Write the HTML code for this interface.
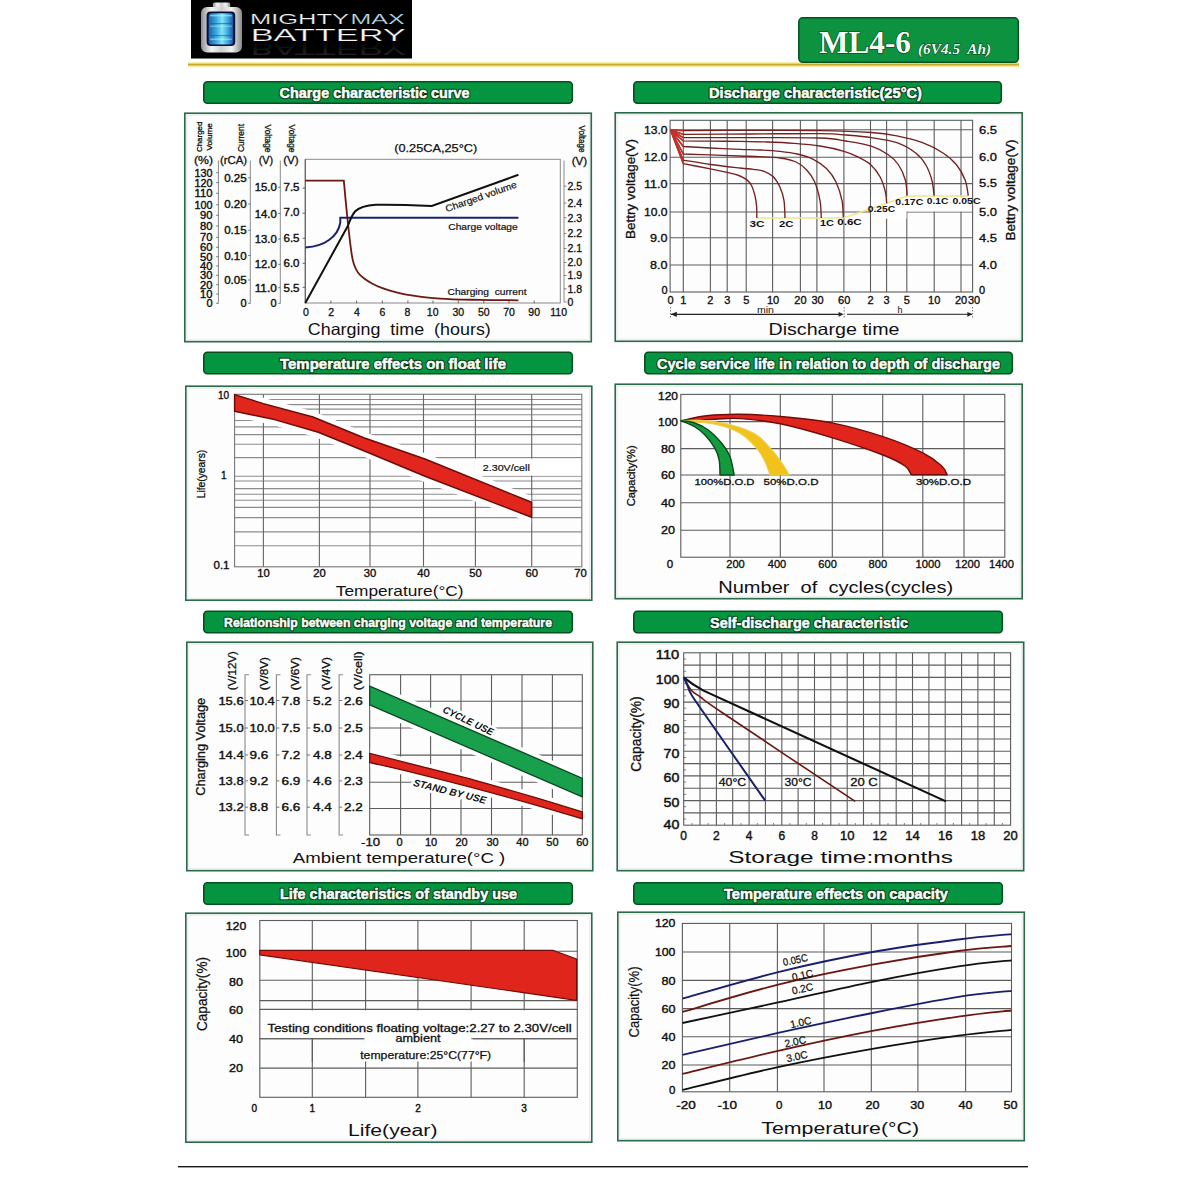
<!DOCTYPE html>
<html><head><meta charset="utf-8"><title>ML4-6 datasheet</title>
<style>
html,body{margin:0;padding:0;background:#fff;}
body{width:1200px;height:1200px;overflow:hidden;font-family:'Liberation Sans', sans-serif;}
svg{display:block;}
svg text{white-space:pre;}
</style></head><body>
<svg xml:space="preserve" width="1200" height="1200" viewBox="0 0 1200 1200" fill="#111" font-family="'Liberation Sans', sans-serif">
<rect x="0" y="0" width="1200" height="1200" fill="#fff"/>
<rect x="191.0" y="0.0" width="221.0" height="58.5" fill="#000" stroke="none" stroke-width="1" rx="0" />
<defs>
<linearGradient id="silv" x1="0" x2="1" y1="0" y2="0">
<stop offset="0" stop-color="#8e8e8e"/><stop offset="0.25" stop-color="#f4f4f4"/><stop offset="0.5" stop-color="#cfcfcf"/>
<stop offset="0.75" stop-color="#f2f2f2"/><stop offset="1" stop-color="#8a8a8a"/></linearGradient>
<linearGradient id="blu" x1="0" x2="1" y1="0" y2="0">
<stop offset="0" stop-color="#1d5fa8"/><stop offset="0.3" stop-color="#3aa6dc"/><stop offset="0.55" stop-color="#7fe4f6"/>
<stop offset="0.8" stop-color="#3aa0d8"/><stop offset="1" stop-color="#1a55a0"/></linearGradient>
<linearGradient id="refl" x1="0" x2="0" y1="0" y2="1">
<stop offset="0" stop-color="#fff" stop-opacity="0.45"/><stop offset="1" stop-color="#fff" stop-opacity="0"/></linearGradient>
</defs>
<rect x="212.8" y="2.6" width="17.5" height="5.5" fill="url(#silv)" stroke="none" stroke-width="1" rx="2" />
<rect x="201.0" y="7.0" width="41.0" height="45.5" fill="url(#silv)" stroke="none" stroke-width="1" rx="6" />
<rect x="206.6" y="11.4" width="28.6" height="34.7" fill="#06103a" stroke="none" stroke-width="1" rx="4" />
<rect x="208.6" y="13.2" width="24.6" height="31.2" fill="url(#blu)" stroke="none" stroke-width="1" rx="3" />
<rect x="210.0" y="14.8" width="21.8" height="1.6" fill="#c8f8ff" stroke="none" stroke-width="1" rx="0" opacity="0.55"/>
<rect x="210.0" y="25.5" width="21.8" height="1.6" fill="#c8f8ff" stroke="none" stroke-width="1" rx="0" opacity="0.35"/>
<rect x="210.0" y="38.5" width="21.8" height="1.6" fill="#c8f8ff" stroke="none" stroke-width="1" rx="0" opacity="0.45"/>
<rect x="210.0" y="23.2" width="21.8" height="0.9" fill="#155a8a" stroke="none" stroke-width="1" rx="0" opacity="0.7"/>
<rect x="210.0" y="35.2" width="21.8" height="0.9" fill="#155a8a" stroke="none" stroke-width="1" rx="0" opacity="0.7"/>
<text x="250.0" y="23.9" font-size="14.6" text-anchor="start" fill="#f4f4f4" textLength="99" lengthAdjust="spacingAndGlyphs" stroke="#000" stroke-width="0.2">MIGHTY</text>
<text x="350.5" y="23.9" font-size="14.6" text-anchor="start" fill="#bfe2f2" textLength="54" lengthAdjust="spacingAndGlyphs" stroke="#000" stroke-width="0.2">MAX</text>
<text x="250.7" y="41.4" font-size="16.4" text-anchor="start" fill="#f6f6f6" textLength="155" lengthAdjust="spacingAndGlyphs" stroke="#000" stroke-width="0.2">BATTERY</text>
<text x="250.7" y="42.9" font-size="16.4" text-anchor="start" fill="url(#refl)" textLength="155" lengthAdjust="spacingAndGlyphs" transform="translate(0,85.8) scale(1,-1)" opacity="0.35">BATTERY</text>
<defs><linearGradient id="ygl" x1="0" x2="0" y1="0" y2="1">
<stop offset="0" stop-color="#fffbe0"/><stop offset="0.25" stop-color="#f6e488"/><stop offset="0.5" stop-color="#c9a72e"/>
<stop offset="0.72" stop-color="#ecd55a"/><stop offset="1" stop-color="#fffbe8"/></linearGradient></defs>
<rect x="188.0" y="61.8" width="831.0" height="5.4" fill="url(#ygl)" stroke="none" stroke-width="1" rx="0" />
<rect x="798.8" y="17.8" width="219.5" height="44.5" fill="#0d923f" stroke="#06501f" stroke-width="1.5" rx="4" />
<text x="819.0" y="53.0" font-size="32" text-anchor="start" font-weight="bold" fill="#f4fff6" font-family="'Liberation Serif', serif" textLength="92" lengthAdjust="spacingAndGlyphs" stroke="#08361a" stroke-width="1.2" paint-order="stroke">ML4-6</text>
<text x="918.0" y="53.5" font-size="15" text-anchor="start" font-weight="bold" fill="#e8fff0" font-family="'Liberation Serif', serif" font-style="italic" textLength="73" lengthAdjust="spacingAndGlyphs" stroke="#08361a" stroke-width="1" paint-order="stroke">(6V4.5  Ah)</text>
<rect x="203.8" y="81.8" width="368.5" height="21.5" fill="#05943f" stroke="#06501f" stroke-width="1.6" rx="3.5" />
<text x="374.5" y="98.1" font-size="14" text-anchor="middle" font-weight="bold" fill="#0a3015" textLength="190.0" lengthAdjust="spacingAndGlyphs" stroke="#0a3015" stroke-width="2.4" stroke-linejoin="round">Charge characteristic curve</text>
<text x="374.5" y="98.1" font-size="14" text-anchor="middle" font-weight="bold" fill="#f4fff7" textLength="190.0" lengthAdjust="spacingAndGlyphs" stroke="#f4fff7" stroke-width="0.5" stroke-linejoin="round">Charge characteristic curve</text>
<rect x="633.8" y="81.8" width="367.5" height="21.5" fill="#05943f" stroke="#06501f" stroke-width="1.6" rx="3.5" />
<text x="815.5" y="98.1" font-size="14" text-anchor="middle" font-weight="bold" fill="#0a3015" textLength="213" lengthAdjust="spacingAndGlyphs" stroke="#0a3015" stroke-width="2.4" stroke-linejoin="round">Discharge characteristic(25°C)</text>
<text x="815.5" y="98.1" font-size="14" text-anchor="middle" font-weight="bold" fill="#f4fff7" textLength="213" lengthAdjust="spacingAndGlyphs" stroke="#f4fff7" stroke-width="0.5" stroke-linejoin="round">Discharge characteristic(25°C)</text>
<rect x="203.8" y="352.2" width="368.5" height="21.5" fill="#05943f" stroke="#06501f" stroke-width="1.6" rx="3.5" />
<text x="393.0" y="368.6" font-size="14" text-anchor="middle" font-weight="bold" fill="#0a3015" textLength="226" lengthAdjust="spacingAndGlyphs" stroke="#0a3015" stroke-width="2.4" stroke-linejoin="round">Temperature effects on float life</text>
<text x="393.0" y="368.6" font-size="14" text-anchor="middle" font-weight="bold" fill="#f4fff7" textLength="226" lengthAdjust="spacingAndGlyphs" stroke="#f4fff7" stroke-width="0.5" stroke-linejoin="round">Temperature effects on float life</text>
<rect x="644.8" y="352.2" width="367.5" height="21.5" fill="#05943f" stroke="#06501f" stroke-width="1.6" rx="3.5" />
<text x="828.5" y="368.6" font-size="14" text-anchor="middle" font-weight="bold" fill="#0a3015" textLength="343" lengthAdjust="spacingAndGlyphs" stroke="#0a3015" stroke-width="2.4" stroke-linejoin="round">Cycle service life in relation to depth of discharge</text>
<text x="828.5" y="368.6" font-size="14" text-anchor="middle" font-weight="bold" fill="#f4fff7" textLength="343" lengthAdjust="spacingAndGlyphs" stroke="#f4fff7" stroke-width="0.5" stroke-linejoin="round">Cycle service life in relation to depth of discharge</text>
<rect x="203.8" y="611.2" width="368.5" height="21.5" fill="#05943f" stroke="#06501f" stroke-width="1.6" rx="3.5" />
<text x="388.0" y="627.1" font-size="12.5" text-anchor="middle" font-weight="bold" fill="#0a3015" textLength="328" lengthAdjust="spacingAndGlyphs" stroke="#0a3015" stroke-width="2.4" stroke-linejoin="round">Relationship between charging voltage and temperature</text>
<text x="388.0" y="627.1" font-size="12.5" text-anchor="middle" font-weight="bold" fill="#f4fff7" textLength="328" lengthAdjust="spacingAndGlyphs" stroke="#f4fff7" stroke-width="0.5" stroke-linejoin="round">Relationship between charging voltage and temperature</text>
<rect x="633.8" y="611.2" width="368.5" height="21.5" fill="#05943f" stroke="#06501f" stroke-width="1.6" rx="3.5" />
<text x="809.0" y="627.6" font-size="14" text-anchor="middle" font-weight="bold" fill="#0a3015" textLength="198" lengthAdjust="spacingAndGlyphs" stroke="#0a3015" stroke-width="2.4" stroke-linejoin="round">Self-discharge characteristic</text>
<text x="809.0" y="627.6" font-size="14" text-anchor="middle" font-weight="bold" fill="#f4fff7" textLength="198" lengthAdjust="spacingAndGlyphs" stroke="#f4fff7" stroke-width="0.5" stroke-linejoin="round">Self-discharge characteristic</text>
<rect x="203.8" y="882.8" width="368.5" height="21.5" fill="#05943f" stroke="#06501f" stroke-width="1.6" rx="3.5" />
<text x="398.5" y="899.1" font-size="14" text-anchor="middle" font-weight="bold" fill="#0a3015" textLength="237" lengthAdjust="spacingAndGlyphs" stroke="#0a3015" stroke-width="2.4" stroke-linejoin="round">Life characteristics of standby use</text>
<text x="398.5" y="899.1" font-size="14" text-anchor="middle" font-weight="bold" fill="#f4fff7" textLength="237" lengthAdjust="spacingAndGlyphs" stroke="#f4fff7" stroke-width="0.5" stroke-linejoin="round">Life characteristics of standby use</text>
<rect x="633.8" y="882.8" width="368.5" height="21.5" fill="#05943f" stroke="#06501f" stroke-width="1.6" rx="3.5" />
<text x="836.0" y="899.1" font-size="14" text-anchor="middle" font-weight="bold" fill="#0a3015" textLength="224" lengthAdjust="spacingAndGlyphs" stroke="#0a3015" stroke-width="2.4" stroke-linejoin="round">Temperature effects on capacity</text>
<text x="836.0" y="899.1" font-size="14" text-anchor="middle" font-weight="bold" fill="#f4fff7" textLength="224" lengthAdjust="spacingAndGlyphs" stroke="#f4fff7" stroke-width="0.5" stroke-linejoin="round">Temperature effects on capacity</text>
<rect x="186.0" y="114.5" width="404.0" height="226.0" fill="#fdfdfd" stroke="#eef0ef" stroke-width="3" rx="0" />
<rect x="184.8" y="113.2" width="406.5" height="228.5" fill="none" stroke="#2c6a4c" stroke-width="1.6" rx="0" />
<rect x="616.5" y="114.0" width="404.5" height="226.0" fill="#fdfdfd" stroke="#eef0ef" stroke-width="3" rx="0" />
<rect x="615.2" y="112.8" width="407.0" height="228.5" fill="none" stroke="#2c6a4c" stroke-width="1.6" rx="0" />
<rect x="187.0" y="387.5" width="403.5" height="211.5" fill="#fdfdfd" stroke="#eef0ef" stroke-width="3" rx="0" />
<rect x="185.8" y="386.2" width="406.0" height="214.0" fill="none" stroke="#2c6a4c" stroke-width="1.6" rx="0" />
<rect x="616.5" y="385.5" width="404.5" height="212.0" fill="#fdfdfd" stroke="#eef0ef" stroke-width="3" rx="0" />
<rect x="615.2" y="384.2" width="407.0" height="214.5" fill="none" stroke="#2c6a4c" stroke-width="1.6" rx="0" />
<rect x="188.0" y="643.5" width="403.5" height="226.0" fill="#fdfdfd" stroke="#eef0ef" stroke-width="3" rx="0" />
<rect x="186.8" y="642.2" width="406.0" height="228.5" fill="none" stroke="#2c6a4c" stroke-width="1.6" rx="0" />
<rect x="618.5" y="643.5" width="404.0" height="226.0" fill="#fdfdfd" stroke="#eef0ef" stroke-width="3" rx="0" />
<rect x="617.2" y="642.2" width="406.5" height="228.5" fill="none" stroke="#2c6a4c" stroke-width="1.6" rx="0" />
<rect x="187.0" y="914.5" width="403.5" height="226.5" fill="#fdfdfd" stroke="#eef0ef" stroke-width="3" rx="0" />
<rect x="185.8" y="913.2" width="406.0" height="229.0" fill="none" stroke="#2c6a4c" stroke-width="1.6" rx="0" />
<rect x="619.0" y="913.5" width="404.0" height="226.0" fill="#fdfdfd" stroke="#eef0ef" stroke-width="3" rx="0" />
<rect x="617.8" y="912.2" width="406.5" height="228.5" fill="none" stroke="#2c6a4c" stroke-width="1.6" rx="0" />
<rect x="178.0" y="1166.0" width="850.0" height="1.4" fill="#1a1a1a" stroke="none" stroke-width="1" rx="0" />
<rect x="305.3" y="159.3" width="255.0" height="143.7" fill="none" stroke="#8a8a8a" stroke-width="1" rx="0" />
<line x1="305.3" y1="159.3" x2="305.3" y2="303.3" stroke="#666" stroke-width="1.2" />
<line x1="218.4" y1="160.5" x2="218.4" y2="303.5" stroke="#8a8a8a" stroke-width="1" />
<line x1="250.3" y1="160.5" x2="250.3" y2="303.5" stroke="#8a8a8a" stroke-width="1" />
<line x1="280.3" y1="160.5" x2="280.3" y2="303.5" stroke="#8a8a8a" stroke-width="1" />
<line x1="564.0" y1="160.5" x2="564.0" y2="302.0" stroke="#8a8a8a" stroke-width="1" />
<line x1="302.5" y1="188.1" x2="305.3" y2="188.1" stroke="#666" stroke-width="1" />
<line x1="302.5" y1="213.2" x2="305.3" y2="213.2" stroke="#666" stroke-width="1" />
<line x1="302.5" y1="238.3" x2="305.3" y2="238.3" stroke="#666" stroke-width="1" />
<line x1="302.5" y1="263.3" x2="305.3" y2="263.3" stroke="#666" stroke-width="1" />
<line x1="302.5" y1="287.3" x2="305.3" y2="287.3" stroke="#666" stroke-width="1" />
<line x1="330.9" y1="300.5" x2="330.9" y2="303.3" stroke="#666" stroke-width="1" />
<line x1="356.6" y1="300.5" x2="356.6" y2="303.3" stroke="#666" stroke-width="1" />
<line x1="382.3" y1="300.5" x2="382.3" y2="303.3" stroke="#666" stroke-width="1" />
<line x1="407.9" y1="300.5" x2="407.9" y2="303.3" stroke="#666" stroke-width="1" />
<line x1="433.0" y1="300.5" x2="433.0" y2="303.3" stroke="#666" stroke-width="1" />
<line x1="458.3" y1="300.5" x2="458.3" y2="303.3" stroke="#666" stroke-width="1" />
<line x1="483.8" y1="300.5" x2="483.8" y2="303.3" stroke="#666" stroke-width="1" />
<line x1="509.0" y1="300.5" x2="509.0" y2="303.3" stroke="#666" stroke-width="1" />
<line x1="534.2" y1="300.5" x2="534.2" y2="303.3" stroke="#666" stroke-width="1" />
<text x="212.5" y="176.7" font-size="11" text-anchor="end" textLength="18" lengthAdjust="spacingAndGlyphs" stroke="#111" stroke-width="0.4" >130</text>
<line x1="216.2" y1="172.7" x2="218.4" y2="172.7" stroke="#666" stroke-width="0.9" />
<text x="212.5" y="186.6" font-size="11" text-anchor="end" textLength="18" lengthAdjust="spacingAndGlyphs" stroke="#111" stroke-width="0.4" >120</text>
<line x1="216.2" y1="182.6" x2="218.4" y2="182.6" stroke="#666" stroke-width="0.9" />
<text x="212.5" y="197.3" font-size="11" text-anchor="end" textLength="18" lengthAdjust="spacingAndGlyphs" stroke="#111" stroke-width="0.4" >110</text>
<line x1="216.2" y1="193.3" x2="218.4" y2="193.3" stroke="#666" stroke-width="0.9" />
<text x="212.5" y="208.8" font-size="11" text-anchor="end" textLength="18" lengthAdjust="spacingAndGlyphs" stroke="#111" stroke-width="0.4" >100</text>
<line x1="216.2" y1="204.8" x2="218.4" y2="204.8" stroke="#666" stroke-width="0.9" />
<text x="212.5" y="219.3" font-size="11" text-anchor="end" textLength="12.5" lengthAdjust="spacingAndGlyphs" stroke="#111" stroke-width="0.4" >90</text>
<line x1="216.2" y1="215.3" x2="218.4" y2="215.3" stroke="#666" stroke-width="0.9" />
<text x="212.5" y="230.0" font-size="11" text-anchor="end" textLength="12.5" lengthAdjust="spacingAndGlyphs" stroke="#111" stroke-width="0.4" >80</text>
<line x1="216.2" y1="226.0" x2="218.4" y2="226.0" stroke="#666" stroke-width="0.9" />
<text x="212.5" y="241.3" font-size="11" text-anchor="end" textLength="12.5" lengthAdjust="spacingAndGlyphs" stroke="#111" stroke-width="0.4" >70</text>
<line x1="216.2" y1="237.3" x2="218.4" y2="237.3" stroke="#666" stroke-width="0.9" />
<text x="212.5" y="251.3" font-size="11" text-anchor="end" textLength="12.5" lengthAdjust="spacingAndGlyphs" stroke="#111" stroke-width="0.4" >60</text>
<line x1="216.2" y1="247.3" x2="218.4" y2="247.3" stroke="#666" stroke-width="0.9" />
<text x="212.5" y="260.7" font-size="11" text-anchor="end" textLength="12.5" lengthAdjust="spacingAndGlyphs" stroke="#111" stroke-width="0.4" >50</text>
<line x1="216.2" y1="256.7" x2="218.4" y2="256.7" stroke="#666" stroke-width="0.9" />
<text x="212.5" y="270.0" font-size="11" text-anchor="end" textLength="12.5" lengthAdjust="spacingAndGlyphs" stroke="#111" stroke-width="0.4" >40</text>
<line x1="216.2" y1="266.0" x2="218.4" y2="266.0" stroke="#666" stroke-width="0.9" />
<text x="212.5" y="279.3" font-size="11" text-anchor="end" textLength="12.5" lengthAdjust="spacingAndGlyphs" stroke="#111" stroke-width="0.4" >30</text>
<line x1="216.2" y1="275.3" x2="218.4" y2="275.3" stroke="#666" stroke-width="0.9" />
<text x="212.5" y="288.7" font-size="11" text-anchor="end" textLength="12.5" lengthAdjust="spacingAndGlyphs" stroke="#111" stroke-width="0.4" >20</text>
<line x1="216.2" y1="284.7" x2="218.4" y2="284.7" stroke="#666" stroke-width="0.9" />
<text x="212.5" y="298.0" font-size="11" text-anchor="end" textLength="12.5" lengthAdjust="spacingAndGlyphs" stroke="#111" stroke-width="0.4" >10</text>
<line x1="216.2" y1="294.0" x2="218.4" y2="294.0" stroke="#666" stroke-width="0.9" />
<text x="212.5" y="307.3" font-size="11" text-anchor="end" stroke="#111" stroke-width="0.4" >0</text>
<line x1="216.2" y1="303.3" x2="218.4" y2="303.3" stroke="#666" stroke-width="0.9" />
<text x="246.7" y="181.8" font-size="11" text-anchor="end" textLength="22.5" lengthAdjust="spacingAndGlyphs" stroke="#111" stroke-width="0.4" >0.25</text>
<line x1="248.2" y1="177.8" x2="250.3" y2="177.8" stroke="#666" stroke-width="0.9" />
<text x="246.7" y="208.0" font-size="11" text-anchor="end" textLength="22.5" lengthAdjust="spacingAndGlyphs" stroke="#111" stroke-width="0.4" >0.20</text>
<line x1="248.2" y1="204.0" x2="250.3" y2="204.0" stroke="#666" stroke-width="0.9" />
<text x="246.7" y="234.3" font-size="11" text-anchor="end" textLength="22.5" lengthAdjust="spacingAndGlyphs" stroke="#111" stroke-width="0.4" >0.15</text>
<line x1="248.2" y1="230.3" x2="250.3" y2="230.3" stroke="#666" stroke-width="0.9" />
<text x="246.7" y="259.5" font-size="11" text-anchor="end" textLength="22.5" lengthAdjust="spacingAndGlyphs" stroke="#111" stroke-width="0.4" >0.10</text>
<line x1="248.2" y1="255.5" x2="250.3" y2="255.5" stroke="#666" stroke-width="0.9" />
<text x="246.7" y="284.0" font-size="11" text-anchor="end" textLength="22.5" lengthAdjust="spacingAndGlyphs" stroke="#111" stroke-width="0.4" >0.05</text>
<line x1="248.2" y1="280.0" x2="250.3" y2="280.0" stroke="#666" stroke-width="0.9" />
<text x="246.7" y="307.3" font-size="11" text-anchor="end" stroke="#111" stroke-width="0.4" >0</text>
<line x1="248.2" y1="303.3" x2="250.3" y2="303.3" stroke="#666" stroke-width="0.9" />
<text x="276.7" y="191.3" font-size="11" text-anchor="end" textLength="22" lengthAdjust="spacingAndGlyphs" stroke="#111" stroke-width="0.4" >15.0</text>
<line x1="278.2" y1="187.3" x2="280.3" y2="187.3" stroke="#666" stroke-width="0.9" />
<text x="276.7" y="217.5" font-size="11" text-anchor="end" textLength="22" lengthAdjust="spacingAndGlyphs" stroke="#111" stroke-width="0.4" >14.0</text>
<line x1="278.2" y1="213.5" x2="280.3" y2="213.5" stroke="#666" stroke-width="0.9" />
<text x="276.7" y="243.0" font-size="11" text-anchor="end" textLength="22" lengthAdjust="spacingAndGlyphs" stroke="#111" stroke-width="0.4" >13.0</text>
<line x1="278.2" y1="239.0" x2="280.3" y2="239.0" stroke="#666" stroke-width="0.9" />
<text x="276.7" y="268.3" font-size="11" text-anchor="end" textLength="22" lengthAdjust="spacingAndGlyphs" stroke="#111" stroke-width="0.4" >12.0</text>
<line x1="278.2" y1="264.3" x2="280.3" y2="264.3" stroke="#666" stroke-width="0.9" />
<text x="276.7" y="291.7" font-size="11" text-anchor="end" textLength="22" lengthAdjust="spacingAndGlyphs" stroke="#111" stroke-width="0.4" >11.0</text>
<line x1="278.2" y1="287.7" x2="280.3" y2="287.7" stroke="#666" stroke-width="0.9" />
<text x="276.7" y="307.3" font-size="11" text-anchor="end" stroke="#111" stroke-width="0.4" >0</text>
<line x1="278.2" y1="303.3" x2="280.3" y2="303.3" stroke="#666" stroke-width="0.9" />
<text x="299.5" y="191.3" font-size="11" text-anchor="end" textLength="16" lengthAdjust="spacingAndGlyphs" stroke="#111" stroke-width="0.4" >7.5</text>
<text x="299.5" y="215.8" font-size="11" text-anchor="end" textLength="16" lengthAdjust="spacingAndGlyphs" stroke="#111" stroke-width="0.4" >7.0</text>
<text x="299.5" y="242.0" font-size="11" text-anchor="end" textLength="16" lengthAdjust="spacingAndGlyphs" stroke="#111" stroke-width="0.4" >6.5</text>
<text x="299.5" y="267.2" font-size="11" text-anchor="end" textLength="16" lengthAdjust="spacingAndGlyphs" stroke="#111" stroke-width="0.4" >6.0</text>
<text x="299.5" y="291.7" font-size="11" text-anchor="end" textLength="16" lengthAdjust="spacingAndGlyphs" stroke="#111" stroke-width="0.4" >5.5</text>
<text x="567.5" y="190.0" font-size="10.5" text-anchor="start" stroke="#111" stroke-width="0.3" >2.5</text>
<line x1="564.0" y1="186.2" x2="566.5" y2="186.2" stroke="#666" stroke-width="0.8" />
<text x="567.5" y="206.8" font-size="10.5" text-anchor="start" stroke="#111" stroke-width="0.3" >2.4</text>
<line x1="564.0" y1="203.0" x2="566.5" y2="203.0" stroke="#666" stroke-width="0.8" />
<text x="567.5" y="221.5" font-size="10.5" text-anchor="start" stroke="#111" stroke-width="0.3" >2.3</text>
<line x1="564.0" y1="217.7" x2="566.5" y2="217.7" stroke="#666" stroke-width="0.8" />
<text x="567.5" y="237.3" font-size="10.5" text-anchor="start" stroke="#111" stroke-width="0.3" >2.2</text>
<line x1="564.0" y1="233.5" x2="566.5" y2="233.5" stroke="#666" stroke-width="0.8" />
<text x="567.5" y="252.3" font-size="10.5" text-anchor="start" stroke="#111" stroke-width="0.3" >2.1</text>
<line x1="564.0" y1="248.5" x2="566.5" y2="248.5" stroke="#666" stroke-width="0.8" />
<text x="567.5" y="266.3" font-size="10.5" text-anchor="start" stroke="#111" stroke-width="0.3" >2.0</text>
<line x1="564.0" y1="262.5" x2="566.5" y2="262.5" stroke="#666" stroke-width="0.8" />
<text x="567.5" y="279.3" font-size="10.5" text-anchor="start" stroke="#111" stroke-width="0.3" >1.9</text>
<line x1="564.0" y1="275.5" x2="566.5" y2="275.5" stroke="#666" stroke-width="0.8" />
<text x="567.5" y="292.6" font-size="10.5" text-anchor="start" stroke="#111" stroke-width="0.3" >1.8</text>
<line x1="564.0" y1="288.8" x2="566.5" y2="288.8" stroke="#666" stroke-width="0.8" />
<text x="567.5" y="305.8" font-size="10.5" text-anchor="start" stroke="#111" stroke-width="0.3" >0</text>
<line x1="564.0" y1="302.0" x2="566.5" y2="302.0" stroke="#666" stroke-width="0.8" />
<text x="203.5" y="163.5" font-size="11" text-anchor="middle" textLength="19" lengthAdjust="spacingAndGlyphs" stroke="#111" stroke-width="0.3" >(%)</text>
<text x="233.5" y="163.5" font-size="11" text-anchor="middle" textLength="27" lengthAdjust="spacingAndGlyphs" stroke="#111" stroke-width="0.3" >(rCA)</text>
<text x="266.0" y="163.5" font-size="11" text-anchor="middle" textLength="14.5" lengthAdjust="spacingAndGlyphs" stroke="#111" stroke-width="0.3" >(V)</text>
<text x="291.0" y="163.5" font-size="11" text-anchor="middle" textLength="15.5" lengthAdjust="spacingAndGlyphs" stroke="#111" stroke-width="0.3" >(V)</text>
<text x="579.5" y="164.5" font-size="11" text-anchor="middle" textLength="15.5" lengthAdjust="spacingAndGlyphs" stroke="#111" stroke-width="0.3" >(V)</text>
<text x="199.5" y="139.7" font-size="8" text-anchor="middle" textLength="30.5" lengthAdjust="spacingAndGlyphs" stroke="#111" stroke-width="0.3" transform="rotate(-90 199.5 136.8)" >Charged</text>
<text x="209.3" y="139.7" font-size="8" text-anchor="middle" textLength="27.5" lengthAdjust="spacingAndGlyphs" stroke="#111" stroke-width="0.3" transform="rotate(-90 209.3 136.8)" >Volume</text>
<text x="241.0" y="141.1" font-size="8.5" text-anchor="middle" textLength="28" lengthAdjust="spacingAndGlyphs" stroke="#111" stroke-width="0.3" transform="rotate(-90 241.0 138.0)" >Current</text>
<text x="268.3" y="141.6" font-size="8.5" text-anchor="middle" textLength="28" lengthAdjust="spacingAndGlyphs" stroke="#111" stroke-width="0.3" transform="rotate(90 268.3 138.5)" >Voltage</text>
<text x="292.5" y="141.6" font-size="8.5" text-anchor="middle" textLength="28" lengthAdjust="spacingAndGlyphs" stroke="#111" stroke-width="0.3" transform="rotate(90 292.5 138.5)" >Voltage</text>
<text x="582.0" y="142.1" font-size="8.5" text-anchor="middle" textLength="27" lengthAdjust="spacingAndGlyphs" stroke="#111" stroke-width="0.3" transform="rotate(90 582.0 139.0)" >Voltage</text>
<text x="435.7" y="151.5" font-size="11" text-anchor="middle" textLength="83" lengthAdjust="spacingAndGlyphs" stroke="#111" stroke-width="0.25" >(0.25CA,25°C)</text>
<text x="306.0" y="316.0" font-size="10.5" text-anchor="middle" stroke="#111" stroke-width="0.3" >0</text>
<text x="331.2" y="316.0" font-size="10.5" text-anchor="middle" stroke="#111" stroke-width="0.3" >2</text>
<text x="356.8" y="316.0" font-size="10.5" text-anchor="middle" stroke="#111" stroke-width="0.3" >4</text>
<text x="382.3" y="316.0" font-size="10.5" text-anchor="middle" stroke="#111" stroke-width="0.3" >6</text>
<text x="407.5" y="316.0" font-size="10.5" text-anchor="middle" stroke="#111" stroke-width="0.3" >8</text>
<text x="432.7" y="316.0" font-size="10.5" text-anchor="middle" stroke="#111" stroke-width="0.3" >10</text>
<text x="458.3" y="316.0" font-size="10.5" text-anchor="middle" stroke="#111" stroke-width="0.3" >30</text>
<text x="483.8" y="316.0" font-size="10.5" text-anchor="middle" stroke="#111" stroke-width="0.3" >50</text>
<text x="509.0" y="316.0" font-size="10.5" text-anchor="middle" stroke="#111" stroke-width="0.3" >70</text>
<text x="534.2" y="316.0" font-size="10.5" text-anchor="middle" stroke="#111" stroke-width="0.3" >90</text>
<text x="558.7" y="316.0" font-size="10.5" text-anchor="middle" stroke="#111" stroke-width="0.3" >110</text>
<text x="399.3" y="334.9" font-size="16.5" text-anchor="middle" textLength="183" lengthAdjust="spacingAndGlyphs" >Charging  time  (hours)</text>
<path d="M305.3,180.7 L343.8,180.7 C344.4,186.6 345.9,204.2 347.2,216.0 C348.4,227.8 350.2,243.6 351.3,251.7 C352.4,259.8 352.8,260.9 354.0,264.5 C355.2,268.1 356.6,270.7 358.3,273.0 C360.0,275.3 361.9,276.8 364.2,278.5 C366.5,280.2 369.1,281.9 372.0,283.5 C374.9,285.1 376.2,286.0 381.7,287.8 C387.2,289.6 395.3,292.5 405.0,294.3 C414.7,296.1 427.5,297.7 440.0,298.6 C452.5,299.5 466.9,299.6 480.0,299.9 C493.1,300.2 512.0,300.2 518.4,300.3" fill="none" stroke="#6a1a12" stroke-width="1.8" />
<path d="M305.3,247.6 C314,246.8 323,244.5 329,240 C336,235 339.5,228 340.3,222.5 L340.3,217.8 L518.4,217.8" fill="none" stroke="#1c2270" stroke-width="2" />
<path d="M305.3,303 L347.8,226 C350,220 352,215 355,211.5 C359,207.5 366,205.3 375.8,204.8 C390,204.6 410,205 431.8,206 L518.4,174.8" fill="none" stroke="#111" stroke-width="2" />
<text x="481.0" y="199.9" font-size="9.5" text-anchor="middle" textLength="75" lengthAdjust="spacingAndGlyphs" stroke="#111" stroke-width="0.2" transform="rotate(-19.5 481.0 196.5)" >Charged volume</text>
<text x="483.0" y="230.2" font-size="9.5" text-anchor="middle" textLength="69.5" lengthAdjust="spacingAndGlyphs" stroke="#111" stroke-width="0.2" >Charge voltage</text>
<text x="487.0" y="295.0" font-size="9.5" text-anchor="middle" textLength="79" lengthAdjust="spacingAndGlyphs" stroke="#111" stroke-width="0.2" >Charging  current</text>
<line x1="683.3" y1="120.3" x2="683.3" y2="292.0" stroke="#5c5c5c" stroke-width="1.1" />
<line x1="710.4" y1="120.3" x2="710.4" y2="292.0" stroke="#5c5c5c" stroke-width="1.1" />
<line x1="727.2" y1="120.3" x2="727.2" y2="292.0" stroke="#5c5c5c" stroke-width="1.1" />
<line x1="746.2" y1="120.3" x2="746.2" y2="292.0" stroke="#5c5c5c" stroke-width="1.1" />
<line x1="772.6" y1="120.3" x2="772.6" y2="292.0" stroke="#5c5c5c" stroke-width="1.1" />
<line x1="800.4" y1="120.3" x2="800.4" y2="292.0" stroke="#5c5c5c" stroke-width="1.1" />
<line x1="816.9" y1="120.3" x2="816.9" y2="292.0" stroke="#5c5c5c" stroke-width="1.1" />
<line x1="843.9" y1="120.3" x2="843.9" y2="292.0" stroke="#5c5c5c" stroke-width="1.1" />
<line x1="870.5" y1="120.3" x2="870.5" y2="292.0" stroke="#5c5c5c" stroke-width="1.1" />
<line x1="886.6" y1="120.3" x2="886.6" y2="292.0" stroke="#5c5c5c" stroke-width="1.1" />
<line x1="906.8" y1="120.3" x2="906.8" y2="292.0" stroke="#5c5c5c" stroke-width="1.1" />
<line x1="934.2" y1="120.3" x2="934.2" y2="292.0" stroke="#5c5c5c" stroke-width="1.1" />
<line x1="961.0" y1="120.3" x2="961.0" y2="292.0" stroke="#5c5c5c" stroke-width="1.1" />
<line x1="670.1" y1="129.8" x2="972.6" y2="129.8" stroke="#5c5c5c" stroke-width="1.1" />
<line x1="670.1" y1="157.3" x2="972.6" y2="157.3" stroke="#5c5c5c" stroke-width="1.1" />
<line x1="670.1" y1="183.6" x2="972.6" y2="183.6" stroke="#5c5c5c" stroke-width="1.1" />
<line x1="670.1" y1="212.0" x2="972.6" y2="212.0" stroke="#5c5c5c" stroke-width="1.1" />
<line x1="670.1" y1="237.8" x2="972.6" y2="237.8" stroke="#5c5c5c" stroke-width="1.1" />
<line x1="670.1" y1="265.0" x2="972.6" y2="265.0" stroke="#5c5c5c" stroke-width="1.1" />
<rect x="670.1" y="120.3" width="302.5" height="171.7" fill="none" stroke="#5c5c5c" stroke-width="1.1" rx="0" />
<rect x="871.2" y="197.2" width="100.8" height="14.3" fill="#fff" stroke="none" stroke-width="1" rx="0" />
<rect x="871.2" y="197.2" width="35.3" height="21.5" fill="#fff" stroke="none" stroke-width="1" rx="0" />
<polyline points="756.8,218.0 843.3,218.0 886.7,203.3 907.1,196.0 968.3,196.0" fill="none" stroke="#ebe78e" stroke-width="1.5" />
<path d="M670.5,130 L683.3,163.6 C687.8,164.5 703.1,167.4 710.4,168.9 C717.7,170.4 722.5,171.4 727.0,172.4 C731.5,173.4 734.3,173.8 737.5,175.0 C740.7,176.2 744.0,177.7 746.3,179.4 C748.6,181.2 750.0,182.7 751.5,185.5 C753.0,188.3 754.1,192.5 755.0,196.0 C755.9,199.5 756.3,202.8 756.6,206.5 C756.9,210.2 756.8,216.1 756.8,218.0" fill="none" stroke="#732222" stroke-width="1.35" />
<path d="M670.5,130 L683.3,160.1 C687.8,160.8 700.9,163.2 710.4,164.5 C719.9,165.8 732.9,167.2 740.0,168.0 C747.1,168.8 749.3,168.8 753.3,169.3 C757.3,169.9 760.7,170.1 764.0,171.3 C767.3,172.5 770.6,174.0 773.3,176.7 C776.0,179.4 778.2,183.3 780.0,187.3 C781.8,191.3 783.2,195.6 784.0,200.7 C784.8,205.8 784.8,215.1 785.0,218.0" fill="none" stroke="#732222" stroke-width="1.35" />
<path d="M670.5,130 L683.3,154.0 C687.8,154.2 700.9,154.6 710.4,154.9 C719.9,155.2 731.7,155.7 740.0,156.0 C748.3,156.3 753.3,156.4 760.0,156.7 C766.7,157.0 774.0,157.1 780.0,158.0 C786.0,158.9 791.5,160.0 796.0,162.0 C800.5,164.0 803.6,166.7 806.7,170.0 C809.8,173.3 812.5,176.9 814.7,182.0 C816.9,187.1 818.9,194.7 820.0,200.7 C821.1,206.7 821.1,215.1 821.3,218.0" fill="none" stroke="#732222" stroke-width="1.35" />
<path d="M670.5,130 L683.3,146.5 C687.8,146.8 700.5,147.5 710.0,148.0 C719.5,148.5 731.7,149.0 740.0,149.3 C748.3,149.6 753.3,149.7 760.0,150.0 C766.7,150.3 773.8,150.6 780.0,151.3 C786.2,152.0 791.8,152.7 797.3,154.0 C802.8,155.3 808.4,156.9 813.3,159.3 C818.2,161.8 822.9,164.9 826.7,168.7 C830.5,172.5 833.5,176.7 836.0,182.0 C838.5,187.3 840.8,194.8 842.0,200.7 C843.2,206.6 843.1,214.7 843.3,217.5" fill="none" stroke="#732222" stroke-width="1.35" />
<path d="M670.5,130 L683.3,140.9 C687.8,140.9 700.5,141.1 710.0,141.2 C719.5,141.3 730.5,141.2 740.0,141.3 C749.5,141.4 757.8,141.7 766.7,142.0 C775.6,142.3 784.4,142.6 793.3,143.3 C802.2,144.0 811.5,144.7 820.0,146.0 C828.5,147.3 837.8,149.5 844.0,151.3 C850.2,153.1 852.8,154.5 857.3,156.7 C861.8,158.9 866.9,161.4 870.7,164.7 C874.5,168.0 877.6,172.3 880.0,176.7 C882.4,181.1 884.2,186.9 885.3,191.3 C886.4,195.7 886.5,201.3 886.7,203.3" fill="none" stroke="#732222" stroke-width="1.35" />
<path d="M670.5,130 L683.3,137.6 C694.4,137.6 727.2,137.5 750.0,137.6 C772.8,137.7 804.1,137.4 820.0,138.0 C835.9,138.6 837.1,139.6 845.6,141.0 C854.1,142.4 864.1,143.9 871.2,146.2 C878.3,148.5 883.7,151.6 888.3,154.7 C892.9,157.8 895.8,160.7 898.6,165.0 C901.5,169.3 904.0,175.2 905.4,180.3 C906.8,185.4 906.8,193.1 907.1,195.7" fill="none" stroke="#732222" stroke-width="1.35" />
<path d="M670.5,130 L683.3,134.4 C694.4,134.3 727.2,134.1 750.0,134.0 C772.8,133.9 804.1,133.4 820.0,133.6 C835.9,133.8 837.1,134.3 845.6,135.0 C854.1,135.7 862.7,136.3 871.2,137.6 C879.8,138.9 889.5,140.1 896.9,142.7 C904.3,145.3 910.9,149.3 915.7,153.0 C920.5,156.7 923.2,160.4 925.9,165.0 C928.6,169.6 930.5,175.2 931.9,180.3 C933.3,185.4 933.7,193.1 934.1,195.7" fill="none" stroke="#732222" stroke-width="1.35" />
<path d="M670.5,130 L683.3,130.6 C694.4,130.6 727.2,130.4 750.0,130.4 C772.8,130.4 799.8,130.2 820.0,130.6 C840.2,130.9 858.4,131.6 871.2,132.5 C884.0,133.4 888.4,134.2 896.9,135.9 C905.4,137.6 914.8,139.8 922.5,142.7 C930.2,145.5 937.3,149.3 943.0,153.0 C948.7,156.7 953.0,160.4 956.7,165.0 C960.4,169.6 963.3,175.2 965.2,180.3 C967.1,185.4 967.8,193.1 968.3,195.7" fill="none" stroke="#732222" stroke-width="1.35" />
<line x1="670.5" y1="130.0" x2="683.3" y2="163.6" stroke="#c8302a" stroke-width="1.4" />
<line x1="670.5" y1="130.0" x2="683.3" y2="160.1" stroke="#c8302a" stroke-width="1.4" />
<line x1="670.5" y1="130.0" x2="683.3" y2="154.0" stroke="#c8302a" stroke-width="1.4" />
<line x1="670.5" y1="130.0" x2="683.3" y2="146.5" stroke="#c8302a" stroke-width="1.4" />
<line x1="670.5" y1="130.0" x2="683.3" y2="140.9" stroke="#c8302a" stroke-width="1.4" />
<line x1="670.5" y1="130.0" x2="683.3" y2="137.6" stroke="#c8302a" stroke-width="1.4" />
<line x1="670.5" y1="130.0" x2="683.3" y2="134.4" stroke="#c8302a" stroke-width="1.4" />
<line x1="670.5" y1="130.0" x2="683.3" y2="130.6" stroke="#c8302a" stroke-width="1.4" />
<text x="757.0" y="226.5" font-size="9" text-anchor="middle" font-weight="bold" textLength="15" lengthAdjust="spacingAndGlyphs" >3C</text>
<text x="786.3" y="226.5" font-size="9" text-anchor="middle" font-weight="bold" textLength="14.5" lengthAdjust="spacingAndGlyphs" >2C</text>
<text x="827.0" y="226.2" font-size="9" text-anchor="middle" font-weight="bold" textLength="14" lengthAdjust="spacingAndGlyphs" >1C</text>
<text x="849.5" y="225.2" font-size="9" text-anchor="middle" font-weight="bold" textLength="24.5" lengthAdjust="spacingAndGlyphs" >0.6C</text>
<text x="881.5" y="211.7" font-size="9" text-anchor="middle" font-weight="bold" textLength="27.5" lengthAdjust="spacingAndGlyphs" >0.25C</text>
<text x="909.3" y="204.9" font-size="9" text-anchor="middle" font-weight="bold" textLength="28" lengthAdjust="spacingAndGlyphs" >0.17C</text>
<text x="937.5" y="203.7" font-size="9" text-anchor="middle" font-weight="bold" textLength="21.5" lengthAdjust="spacingAndGlyphs" >0.1C</text>
<text x="966.5" y="204.4" font-size="9" text-anchor="middle" font-weight="bold" textLength="28" lengthAdjust="spacingAndGlyphs" >0.05C</text>
<text x="667.5" y="134.0" font-size="11" text-anchor="end" textLength="23.5" lengthAdjust="spacingAndGlyphs" stroke="#111" stroke-width="0.35" >13.0</text>
<text x="667.5" y="161.3" font-size="11" text-anchor="end" textLength="23.5" lengthAdjust="spacingAndGlyphs" stroke="#111" stroke-width="0.35" >12.0</text>
<text x="667.5" y="187.8" font-size="11" text-anchor="end" textLength="23.5" lengthAdjust="spacingAndGlyphs" stroke="#111" stroke-width="0.35" >11.0</text>
<text x="667.5" y="216.0" font-size="11" text-anchor="end" textLength="23.5" lengthAdjust="spacingAndGlyphs" stroke="#111" stroke-width="0.35" >10.0</text>
<text x="667.5" y="242.0" font-size="11" text-anchor="end" textLength="17.5" lengthAdjust="spacingAndGlyphs" stroke="#111" stroke-width="0.35" >9.0</text>
<text x="667.5" y="269.0" font-size="11" text-anchor="end" textLength="17.5" lengthAdjust="spacingAndGlyphs" stroke="#111" stroke-width="0.35" >8.0</text>
<text x="667.5" y="294.0" font-size="11" text-anchor="end" stroke="#111" stroke-width="0.35" >0</text>
<text x="979.0" y="134.0" font-size="11" text-anchor="start" textLength="18" lengthAdjust="spacingAndGlyphs" stroke="#111" stroke-width="0.35" >6.5</text>
<text x="979.0" y="161.3" font-size="11" text-anchor="start" textLength="18" lengthAdjust="spacingAndGlyphs" stroke="#111" stroke-width="0.35" >6.0</text>
<text x="979.0" y="187.3" font-size="11" text-anchor="start" textLength="18" lengthAdjust="spacingAndGlyphs" stroke="#111" stroke-width="0.35" >5.5</text>
<text x="979.0" y="216.3" font-size="11" text-anchor="start" textLength="18" lengthAdjust="spacingAndGlyphs" stroke="#111" stroke-width="0.35" >5.0</text>
<text x="979.0" y="242.0" font-size="11" text-anchor="start" textLength="18" lengthAdjust="spacingAndGlyphs" stroke="#111" stroke-width="0.35" >4.5</text>
<text x="979.0" y="269.0" font-size="11" text-anchor="start" textLength="18" lengthAdjust="spacingAndGlyphs" stroke="#111" stroke-width="0.35" >4.0</text>
<text x="979.0" y="294.0" font-size="11" text-anchor="start" stroke="#111" stroke-width="0.35" >0</text>
<text x="631.0" y="193.3" font-size="12" text-anchor="middle" textLength="100" lengthAdjust="spacingAndGlyphs" stroke="#111" stroke-width="0.3" transform="rotate(-90 631.0 189.0)" >Bettry voltage(V)</text>
<text x="1010.5" y="194.3" font-size="12" text-anchor="middle" textLength="101" lengthAdjust="spacingAndGlyphs" stroke="#111" stroke-width="0.3" transform="rotate(-90 1010.5 190.0)" >Bettry voltage(V)</text>
<text x="670.6" y="304.4" font-size="11" text-anchor="middle" stroke="#111" stroke-width="0.35" >0</text>
<text x="683.3" y="304.4" font-size="11" text-anchor="middle" stroke="#111" stroke-width="0.35" >1</text>
<text x="710.4" y="304.4" font-size="11" text-anchor="middle" stroke="#111" stroke-width="0.35" >2</text>
<text x="727.2" y="304.4" font-size="11" text-anchor="middle" stroke="#111" stroke-width="0.35" >3</text>
<text x="746.2" y="304.4" font-size="11" text-anchor="middle" stroke="#111" stroke-width="0.35" >5</text>
<text x="773.0" y="304.4" font-size="11" text-anchor="middle" stroke="#111" stroke-width="0.35" >10</text>
<text x="800.4" y="304.4" font-size="11" text-anchor="middle" stroke="#111" stroke-width="0.35" >20</text>
<text x="817.5" y="304.4" font-size="11" text-anchor="middle" stroke="#111" stroke-width="0.35" >30</text>
<text x="844.2" y="304.4" font-size="11" text-anchor="middle" stroke="#111" stroke-width="0.35" >60</text>
<text x="870.5" y="304.4" font-size="11" text-anchor="middle" stroke="#111" stroke-width="0.35" >2</text>
<text x="886.6" y="304.4" font-size="11" text-anchor="middle" stroke="#111" stroke-width="0.35" >3</text>
<text x="906.8" y="304.4" font-size="11" text-anchor="middle" stroke="#111" stroke-width="0.35" >5</text>
<text x="934.2" y="304.4" font-size="11" text-anchor="middle" stroke="#111" stroke-width="0.35" >10</text>
<text x="961.0" y="304.4" font-size="11" text-anchor="middle" stroke="#111" stroke-width="0.35" >20</text>
<text x="974.0" y="304.4" font-size="11" text-anchor="middle" stroke="#111" stroke-width="0.35" >30</text>
<line x1="671.0" y1="314.3" x2="841.0" y2="314.3" stroke="#222" stroke-width="1.2" />
<line x1="847.0" y1="314.3" x2="972.0" y2="314.3" stroke="#222" stroke-width="1.0" />
<path d="M670.8,314.3 l6,-2.6 l0,5.2 z" fill="#222"/>
<path d="M843.6,314.3 l-5,-2.4 l0,4.8 z" fill="#222"/>
<path d="M972.4,314.3 l-5,-2.4 l0,4.8 z" fill="#222"/>
<line x1="670.5" y1="307.0" x2="670.5" y2="318.0" stroke="#555" stroke-width="0.8" stroke-dasharray="1.5,1.5"/>
<line x1="844.2" y1="307.0" x2="844.2" y2="318.0" stroke="#555" stroke-width="0.8" stroke-dasharray="1.5,1.5"/>
<line x1="972.6" y1="307.0" x2="972.6" y2="318.0" stroke="#555" stroke-width="0.8" stroke-dasharray="1.5,1.5"/>
<text x="765.5" y="313.0" font-size="9" text-anchor="middle" textLength="17" lengthAdjust="spacingAndGlyphs" >min</text>
<text x="900.0" y="312.7" font-size="9" text-anchor="middle" >h</text>
<text x="834.0" y="334.7" font-size="16.5" text-anchor="middle" textLength="131" lengthAdjust="spacingAndGlyphs" >Discharge time</text>
<line x1="234.6" y1="399.5" x2="581.8" y2="399.5" stroke="#8c8c8c" stroke-width="1.1" />
<line x1="234.6" y1="404.6" x2="581.8" y2="404.6" stroke="#8c8c8c" stroke-width="1.1" />
<line x1="234.6" y1="409.1" x2="581.8" y2="409.1" stroke="#8c8c8c" stroke-width="1.1" />
<line x1="234.6" y1="414.8" x2="581.8" y2="414.8" stroke="#8c8c8c" stroke-width="1.1" />
<line x1="234.6" y1="420.5" x2="581.8" y2="420.5" stroke="#8c8c8c" stroke-width="1.1" />
<line x1="234.6" y1="426.9" x2="581.8" y2="426.9" stroke="#8c8c8c" stroke-width="1.1" />
<line x1="234.6" y1="434.6" x2="581.8" y2="434.6" stroke="#8c8c8c" stroke-width="1.1" />
<line x1="234.6" y1="444.2" x2="581.8" y2="444.2" stroke="#8c8c8c" stroke-width="1.1" />
<line x1="234.6" y1="457.6" x2="581.8" y2="457.6" stroke="#8c8c8c" stroke-width="1.1" />
<line x1="234.6" y1="476.3" x2="581.8" y2="476.3" stroke="#8c8c8c" stroke-width="1.1" />
<line x1="234.6" y1="481.0" x2="581.8" y2="481.0" stroke="#8c8c8c" stroke-width="1.1" />
<line x1="234.6" y1="488.6" x2="581.8" y2="488.6" stroke="#8c8c8c" stroke-width="1.1" />
<line x1="234.6" y1="494.2" x2="581.8" y2="494.2" stroke="#8c8c8c" stroke-width="1.1" />
<line x1="234.6" y1="500.3" x2="581.8" y2="500.3" stroke="#8c8c8c" stroke-width="1.1" />
<line x1="234.6" y1="507.4" x2="581.8" y2="507.4" stroke="#8c8c8c" stroke-width="1.1" />
<line x1="234.6" y1="517.6" x2="581.8" y2="517.6" stroke="#8c8c8c" stroke-width="1.1" />
<line x1="234.6" y1="531.9" x2="581.8" y2="531.9" stroke="#8c8c8c" stroke-width="1.1" />
<line x1="234.6" y1="545.8" x2="581.8" y2="545.8" stroke="#8c8c8c" stroke-width="1.1" />
<line x1="263.4" y1="394.3" x2="263.4" y2="566.8" stroke="#666" stroke-width="1.1" />
<line x1="319.4" y1="394.3" x2="319.4" y2="566.8" stroke="#666" stroke-width="1.1" />
<line x1="370.0" y1="394.3" x2="370.0" y2="566.8" stroke="#666" stroke-width="1.1" />
<line x1="423.5" y1="394.3" x2="423.5" y2="566.8" stroke="#666" stroke-width="1.1" />
<line x1="475.4" y1="394.3" x2="475.4" y2="566.8" stroke="#666" stroke-width="1.1" />
<line x1="531.7" y1="394.3" x2="531.7" y2="566.8" stroke="#666" stroke-width="1.1" />
<rect x="234.6" y="394.3" width="347.2" height="172.5" fill="none" stroke="#777" stroke-width="1.1" rx="0" />
<rect x="474.3" y="458.6" width="106.7" height="17.0" fill="#fff" stroke="none" stroke-width="1" rx="0" />
<text x="506.3" y="470.5" font-size="8.5" text-anchor="middle" textLength="47" lengthAdjust="spacingAndGlyphs" stroke="#111" stroke-width="0.2" >2.30V/cell</text>
<defs><clipPath id="clipL2"><rect x="235.4" y="395.1" width="295.8" height="170.89999999999995"/></clipPath></defs>
<g clip-path="url(#clipL2)">
<polygon points="234.6,394.6 263.4,403.6 313.0,417.0 363.8,437.8 425.0,459.0 531.6,502.3 531.6,517.3 425.0,476.3 362.0,450.0 318.3,432.3 274.5,419.6 234.6,411.3" fill="#fff" stroke="#fff" stroke-width="11" stroke-linejoin="round"/>
</g>
<polygon points="234.6,394.6 263.4,403.6 313.0,417.0 363.8,437.8 425.0,459.0 531.6,502.3 531.6,517.3 425.0,476.3 362.0,450.0 318.3,432.3 274.5,419.6 234.6,411.3" fill="#e1261e" stroke="#6e0c08" stroke-width="1.5" stroke-linejoin="round"/>
<text x="229.0" y="399.1" font-size="10" text-anchor="end" stroke="#111" stroke-width="0.35" >10</text>
<text x="226.5" y="479.1" font-size="10" text-anchor="end" stroke="#111" stroke-width="0.35" >1</text>
<text x="229.5" y="569.4" font-size="10" text-anchor="end" textLength="16" lengthAdjust="spacingAndGlyphs" stroke="#111" stroke-width="0.35" >0.1</text>
<text x="263.4" y="577.2" font-size="10" text-anchor="middle" textLength="12.5" lengthAdjust="spacingAndGlyphs" stroke="#111" stroke-width="0.35" >10</text>
<text x="319.4" y="577.2" font-size="10" text-anchor="middle" textLength="12.5" lengthAdjust="spacingAndGlyphs" stroke="#111" stroke-width="0.35" >20</text>
<text x="370.0" y="577.2" font-size="10" text-anchor="middle" textLength="12.5" lengthAdjust="spacingAndGlyphs" stroke="#111" stroke-width="0.35" >30</text>
<text x="423.5" y="577.2" font-size="10" text-anchor="middle" textLength="12.5" lengthAdjust="spacingAndGlyphs" stroke="#111" stroke-width="0.35" >40</text>
<text x="475.6" y="577.2" font-size="10" text-anchor="middle" textLength="12.5" lengthAdjust="spacingAndGlyphs" stroke="#111" stroke-width="0.35" >50</text>
<text x="531.7" y="577.2" font-size="10" text-anchor="middle" textLength="12.5" lengthAdjust="spacingAndGlyphs" stroke="#111" stroke-width="0.35" >60</text>
<text x="580.5" y="577.2" font-size="10" text-anchor="middle" textLength="12.5" lengthAdjust="spacingAndGlyphs" stroke="#111" stroke-width="0.35" >70</text>
<text x="200.5" y="478.0" font-size="11" text-anchor="middle" textLength="48.5" lengthAdjust="spacingAndGlyphs" stroke="#111" stroke-width="0.3" transform="rotate(-90 200.5 474.0)" >Life(years)</text>
<text x="399.7" y="596.4" font-size="15" text-anchor="middle" textLength="127.7" lengthAdjust="spacingAndGlyphs" >Temperature(°C)</text>
<line x1="730.0" y1="394.4" x2="730.0" y2="557.2" stroke="#5c5c5c" stroke-width="1.1" />
<line x1="780.3" y1="394.4" x2="780.3" y2="557.2" stroke="#5c5c5c" stroke-width="1.1" />
<line x1="832.3" y1="394.4" x2="832.3" y2="557.2" stroke="#5c5c5c" stroke-width="1.1" />
<line x1="882.7" y1="394.4" x2="882.7" y2="557.2" stroke="#5c5c5c" stroke-width="1.1" />
<line x1="922.8" y1="394.4" x2="922.8" y2="557.2" stroke="#5c5c5c" stroke-width="1.1" />
<line x1="964.0" y1="394.4" x2="964.0" y2="557.2" stroke="#5c5c5c" stroke-width="1.1" />
<line x1="680.8" y1="421.6" x2="1004.8" y2="421.6" stroke="#5c5c5c" stroke-width="1.1" />
<line x1="680.8" y1="448.6" x2="1004.8" y2="448.6" stroke="#5c5c5c" stroke-width="1.1" />
<line x1="680.8" y1="475.0" x2="1004.8" y2="475.0" stroke="#5c5c5c" stroke-width="1.1" />
<line x1="680.8" y1="502.7" x2="1004.8" y2="502.7" stroke="#5c5c5c" stroke-width="1.1" />
<line x1="680.8" y1="530.2" x2="1004.8" y2="530.2" stroke="#5c5c5c" stroke-width="1.1" />
<rect x="680.8" y="394.4" width="324.0" height="162.8" fill="none" stroke="#5c5c5c" stroke-width="1.1" rx="0" />
<path d="M680.8,420.8 C685.1,420.0 696.8,416.9 706.7,415.8 C716.6,414.7 727.7,414.2 740.0,414.3 C752.3,414.4 765.0,415.1 780.3,416.5 C795.6,417.9 814.6,419.5 831.7,422.9 C848.8,426.3 867.7,431.6 883.0,436.7 C898.3,441.8 913.5,448.3 923.3,453.2 C933.1,458.1 937.7,462.4 941.7,466.0 C945.7,469.6 946.3,473.3 947.2,474.8 L911.4,474.8 C910.3,473.3 909.7,469.3 905.0,466.0 C900.3,462.7 895.2,459.7 883.0,455.0 C870.8,450.3 848.8,442.8 831.7,437.6 C814.6,432.4 795.6,427.0 780.3,423.8 C765.0,420.6 750.9,419.4 740.0,418.6 C729.1,417.8 724.9,418.8 715.0,419.2 C705.1,419.6 686.5,420.5 680.8,420.8 Z" fill="#e0261c" stroke="#700c08" stroke-width="1.4" stroke-linejoin="round"/>
<path d="M680.8,420.8 C684.3,420.7 693.2,419.6 701.7,420.3 C710.2,421.0 722.5,422.6 731.7,425.0 C740.9,427.4 749.8,430.6 756.7,435.0 C763.6,439.4 768.9,446.7 773.3,451.7 C777.7,456.7 780.6,461.1 783.3,465.0 C785.9,468.9 788.2,473.3 789.2,475.0 L770.0,475.0 C769.2,472.8 767.2,466.1 765.0,461.7 C762.8,457.2 760.9,453.0 756.7,448.3 C752.5,443.6 747.0,437.3 740.0,433.3 C733.0,429.3 724.9,426.3 715.0,424.2 C705.1,422.1 686.5,421.4 680.8,420.8 Z" fill="#f2c21a" stroke="#e8d050" stroke-width="1.2" stroke-linejoin="round"/>
<path d="M680.8,420.8 C682.9,421.1 688.7,421.0 693.3,422.5 C697.9,424.0 703.6,426.5 708.3,430.0 C713.0,433.5 718.1,438.9 721.7,443.3 C725.3,447.8 727.9,451.4 730.0,456.7 C732.1,462.0 733.5,471.9 734.2,475.0 L720.0,475.0 C719.9,472.5 720.0,464.4 719.2,460.0 C718.4,455.6 717.4,452.5 715.0,448.3 C712.6,444.1 708.3,438.6 705.0,435.0 C701.7,431.4 699.0,429.4 695.0,427.0 C691.0,424.6 683.2,421.8 680.8,420.8 Z" fill="#129a3c" stroke="#0a4a1c" stroke-width="1.4" stroke-linejoin="round"/>
<text x="724.5" y="484.8" font-size="9" text-anchor="middle" textLength="60" lengthAdjust="spacingAndGlyphs" stroke="#111" stroke-width="0.3" >100%D.O.D</text>
<text x="791.0" y="484.8" font-size="9" text-anchor="middle" textLength="55" lengthAdjust="spacingAndGlyphs" stroke="#111" stroke-width="0.3" >50%D.O.D</text>
<text x="943.5" y="485.4" font-size="9" text-anchor="middle" textLength="55" lengthAdjust="spacingAndGlyphs" stroke="#111" stroke-width="0.3" >30%D.O.D</text>
<text x="668.0" y="399.7" font-size="11.5" text-anchor="middle" textLength="20" lengthAdjust="spacingAndGlyphs" stroke="#111" stroke-width="0.4" >120</text>
<text x="668.0" y="426.1" font-size="11.5" text-anchor="middle" textLength="20" lengthAdjust="spacingAndGlyphs" stroke="#111" stroke-width="0.4" >100</text>
<text x="668.0" y="452.6" font-size="11.5" text-anchor="middle" textLength="14" lengthAdjust="spacingAndGlyphs" stroke="#111" stroke-width="0.4" >80</text>
<text x="668.0" y="479.4" font-size="11.5" text-anchor="middle" textLength="14" lengthAdjust="spacingAndGlyphs" stroke="#111" stroke-width="0.4" >60</text>
<text x="668.0" y="506.8" font-size="11.5" text-anchor="middle" textLength="14" lengthAdjust="spacingAndGlyphs" stroke="#111" stroke-width="0.4" >40</text>
<text x="668.0" y="534.4" font-size="11.5" text-anchor="middle" textLength="14" lengthAdjust="spacingAndGlyphs" stroke="#111" stroke-width="0.4" >20</text>
<text x="670.0" y="567.7" font-size="11.5" text-anchor="middle" stroke="#111" stroke-width="0.4" >0</text>
<text x="735.5" y="568.4" font-size="11" text-anchor="middle" textLength="18.5" lengthAdjust="spacingAndGlyphs" stroke="#111" stroke-width="0.35" >200</text>
<text x="777.0" y="568.4" font-size="11" text-anchor="middle" textLength="18.5" lengthAdjust="spacingAndGlyphs" stroke="#111" stroke-width="0.35" >400</text>
<text x="827.6" y="568.4" font-size="11" text-anchor="middle" textLength="18.5" lengthAdjust="spacingAndGlyphs" stroke="#111" stroke-width="0.35" >600</text>
<text x="877.8" y="568.4" font-size="11" text-anchor="middle" textLength="18.5" lengthAdjust="spacingAndGlyphs" stroke="#111" stroke-width="0.35" >800</text>
<text x="928.0" y="568.4" font-size="11" text-anchor="middle" textLength="25" lengthAdjust="spacingAndGlyphs" stroke="#111" stroke-width="0.35" >1000</text>
<text x="967.4" y="568.4" font-size="11" text-anchor="middle" textLength="25" lengthAdjust="spacingAndGlyphs" stroke="#111" stroke-width="0.35" >1200</text>
<text x="1001.4" y="568.4" font-size="11" text-anchor="middle" textLength="25" lengthAdjust="spacingAndGlyphs" stroke="#111" stroke-width="0.35" >1400</text>
<text x="835.7" y="592.9" font-size="16.5" text-anchor="middle" textLength="235" lengthAdjust="spacingAndGlyphs" >Number  of  cycles(cycles)</text>
<text x="631.0" y="479.9" font-size="11.5" text-anchor="middle" textLength="61" lengthAdjust="spacingAndGlyphs" stroke="#111" stroke-width="0.3" transform="rotate(-90 631.0 475.8)" >Capacity(%)</text>
<line x1="400.6" y1="674.7" x2="400.6" y2="835.0" stroke="#5c5c5c" stroke-width="1.1" />
<line x1="430.6" y1="674.7" x2="430.6" y2="835.0" stroke="#5c5c5c" stroke-width="1.1" />
<line x1="461.0" y1="674.7" x2="461.0" y2="835.0" stroke="#5c5c5c" stroke-width="1.1" />
<line x1="491.5" y1="674.7" x2="491.5" y2="835.0" stroke="#5c5c5c" stroke-width="1.1" />
<line x1="522.0" y1="674.7" x2="522.0" y2="835.0" stroke="#5c5c5c" stroke-width="1.1" />
<line x1="552.4" y1="674.7" x2="552.4" y2="835.0" stroke="#5c5c5c" stroke-width="1.1" />
<line x1="369.7" y1="701.2" x2="582.3" y2="701.2" stroke="#5c5c5c" stroke-width="1.1" />
<line x1="369.7" y1="728.0" x2="582.3" y2="728.0" stroke="#5c5c5c" stroke-width="1.1" />
<line x1="369.7" y1="755.1" x2="582.3" y2="755.1" stroke="#5c5c5c" stroke-width="1.1" />
<line x1="369.7" y1="782.2" x2="582.3" y2="782.2" stroke="#5c5c5c" stroke-width="1.1" />
<line x1="369.7" y1="808.5" x2="582.3" y2="808.5" stroke="#5c5c5c" stroke-width="1.1" />
<defs><clipPath id="clipL3"><rect x="370.5" y="675.5" width="210.99999999999997" height="158.69999999999996"/></clipPath></defs>
<rect x="369.7" y="674.7" width="212.6" height="160.3" fill="none" stroke="#5c5c5c" stroke-width="1.1" rx="0" />
<g clip-path="url(#clipL3)">
<polygon points="369.7,686.1 582.3,778.3 582.3,796.9 369.7,704.9" fill="#fff" stroke="#fff" stroke-width="9" stroke-linejoin="round"/>
<path d="M369.7,753.4 C377.8,755.4 400.3,761.1 418.0,765.6 C435.7,770.1 456.7,775.3 476.0,780.6 C495.3,785.9 516.3,792.0 534.0,797.2 C551.7,802.4 574.2,809.4 582.3,811.8 L582.3,818.9 C574.2,816.5 551.7,809.6 534.0,804.6 C516.3,799.6 495.3,793.7 476.0,788.6 C456.7,783.5 435.7,778.1 418.0,773.8 C400.3,769.4 377.8,764.4 369.7,762.5 Z" fill="#fff" stroke="#fff" stroke-width="9" stroke-linejoin="round"/>
<text x="468.3" y="724.2" font-size="10" text-anchor="middle" font-weight="bold" fill="#fff" font-style="italic" textLength="55" lengthAdjust="spacingAndGlyphs" transform="rotate(25.5 468.3 720.6)" stroke="#fff" stroke-width="5" stroke-linejoin="round">CYCLE USE</text>
<text x="449.9" y="794.9" font-size="10" text-anchor="middle" font-weight="bold" fill="#fff" font-style="italic" textLength="75" lengthAdjust="spacingAndGlyphs" transform="rotate(14 449.9 791.3)" stroke="#fff" stroke-width="5" stroke-linejoin="round">STAND BY USE</text>
</g>
<polygon points="369.7,686.1 582.3,778.3 582.3,796.9 369.7,704.9" fill="#19a04c" stroke="#0a4a22" stroke-width="1.3" stroke-linejoin="round"/>
<path d="M369.7,753.4 C377.8,755.4 400.3,761.1 418.0,765.6 C435.7,770.1 456.7,775.3 476.0,780.6 C495.3,785.9 516.3,792.0 534.0,797.2 C551.7,802.4 574.2,809.4 582.3,811.8 L582.3,818.9 C574.2,816.5 551.7,809.6 534.0,804.6 C516.3,799.6 495.3,793.7 476.0,788.6 C456.7,783.5 435.7,778.1 418.0,773.8 C400.3,769.4 377.8,764.4 369.7,762.5 Z" fill="#e0261c" stroke="#6e0c08" stroke-width="1.3" stroke-linejoin="round"/>
<text x="468.3" y="724.2" font-size="10" text-anchor="middle" font-weight="bold" font-style="italic" textLength="55" lengthAdjust="spacingAndGlyphs" transform="rotate(25.5 468.3 720.6)" >CYCLE USE</text>
<text x="449.9" y="794.9" font-size="10" text-anchor="middle" font-weight="bold" font-style="italic" textLength="75" lengthAdjust="spacingAndGlyphs" transform="rotate(14 449.9 791.3)" >STAND BY USE</text>
<path d="M249.0,674.8 H245.0 V835 H249.0" fill="none" stroke="#8a8a8a" stroke-width="1.1"/>
<path d="M280.4,674.8 H276.4 V835 H280.4" fill="none" stroke="#8a8a8a" stroke-width="1.1"/>
<path d="M311.0,674.8 H307.0 V835 H311.0" fill="none" stroke="#8a8a8a" stroke-width="1.1"/>
<path d="M343.1,674.8 H339.1 V835 H343.1" fill="none" stroke="#8a8a8a" stroke-width="1.1"/>
<text x="243.7" y="704.6" font-size="11.5" text-anchor="end" textLength="25.3" lengthAdjust="spacingAndGlyphs" stroke="#111" stroke-width="0.4" >15.6</text>
<text x="243.7" y="732.1" font-size="11.5" text-anchor="end" textLength="25.3" lengthAdjust="spacingAndGlyphs" stroke="#111" stroke-width="0.4" >15.0</text>
<text x="243.7" y="759.1" font-size="11.5" text-anchor="end" textLength="25.3" lengthAdjust="spacingAndGlyphs" stroke="#111" stroke-width="0.4" >14.4</text>
<text x="243.7" y="785.0" font-size="11.5" text-anchor="end" textLength="25.3" lengthAdjust="spacingAndGlyphs" stroke="#111" stroke-width="0.4" >13.8</text>
<text x="243.7" y="811.3" font-size="11.5" text-anchor="end" textLength="25.3" lengthAdjust="spacingAndGlyphs" stroke="#111" stroke-width="0.4" >13.2</text>
<text x="249.5" y="704.6" font-size="11.5" text-anchor="start" textLength="25.3" lengthAdjust="spacingAndGlyphs" stroke="#111" stroke-width="0.4" >10.4</text>
<text x="249.5" y="732.1" font-size="11.5" text-anchor="start" textLength="25.3" lengthAdjust="spacingAndGlyphs" stroke="#111" stroke-width="0.4" >10.0</text>
<text x="249.5" y="759.1" font-size="11.5" text-anchor="start" textLength="18.8" lengthAdjust="spacingAndGlyphs" stroke="#111" stroke-width="0.4" >9.6</text>
<text x="249.5" y="785.0" font-size="11.5" text-anchor="start" textLength="18.8" lengthAdjust="spacingAndGlyphs" stroke="#111" stroke-width="0.4" >9.2</text>
<text x="249.5" y="811.3" font-size="11.5" text-anchor="start" textLength="18.8" lengthAdjust="spacingAndGlyphs" stroke="#111" stroke-width="0.4" >8.8</text>
<text x="281.5" y="704.6" font-size="11.5" text-anchor="start" textLength="18.8" lengthAdjust="spacingAndGlyphs" stroke="#111" stroke-width="0.4" >7.8</text>
<text x="281.5" y="732.1" font-size="11.5" text-anchor="start" textLength="18.8" lengthAdjust="spacingAndGlyphs" stroke="#111" stroke-width="0.4" >7.5</text>
<text x="281.5" y="759.1" font-size="11.5" text-anchor="start" textLength="18.8" lengthAdjust="spacingAndGlyphs" stroke="#111" stroke-width="0.4" >7.2</text>
<text x="281.5" y="785.0" font-size="11.5" text-anchor="start" textLength="18.8" lengthAdjust="spacingAndGlyphs" stroke="#111" stroke-width="0.4" >6.9</text>
<text x="281.5" y="811.3" font-size="11.5" text-anchor="start" textLength="18.8" lengthAdjust="spacingAndGlyphs" stroke="#111" stroke-width="0.4" >6.6</text>
<text x="313.0" y="704.6" font-size="11.5" text-anchor="start" textLength="18.8" lengthAdjust="spacingAndGlyphs" stroke="#111" stroke-width="0.4" >5.2</text>
<text x="313.0" y="732.1" font-size="11.5" text-anchor="start" textLength="18.8" lengthAdjust="spacingAndGlyphs" stroke="#111" stroke-width="0.4" >5.0</text>
<text x="313.0" y="759.1" font-size="11.5" text-anchor="start" textLength="18.8" lengthAdjust="spacingAndGlyphs" stroke="#111" stroke-width="0.4" >4.8</text>
<text x="313.0" y="785.0" font-size="11.5" text-anchor="start" textLength="18.8" lengthAdjust="spacingAndGlyphs" stroke="#111" stroke-width="0.4" >4.6</text>
<text x="313.0" y="811.3" font-size="11.5" text-anchor="start" textLength="18.8" lengthAdjust="spacingAndGlyphs" stroke="#111" stroke-width="0.4" >4.4</text>
<text x="344.0" y="704.6" font-size="11.5" text-anchor="start" textLength="18.8" lengthAdjust="spacingAndGlyphs" stroke="#111" stroke-width="0.4" >2.6</text>
<text x="344.0" y="732.1" font-size="11.5" text-anchor="start" textLength="18.8" lengthAdjust="spacingAndGlyphs" stroke="#111" stroke-width="0.4" >2.5</text>
<text x="344.0" y="759.1" font-size="11.5" text-anchor="start" textLength="18.8" lengthAdjust="spacingAndGlyphs" stroke="#111" stroke-width="0.4" >2.4</text>
<text x="344.0" y="785.0" font-size="11.5" text-anchor="start" textLength="18.8" lengthAdjust="spacingAndGlyphs" stroke="#111" stroke-width="0.4" >2.3</text>
<text x="344.0" y="811.3" font-size="11.5" text-anchor="start" textLength="18.8" lengthAdjust="spacingAndGlyphs" stroke="#111" stroke-width="0.4" >2.2</text>
<line x1="245.0" y1="700.5" x2="248.0" y2="700.5" stroke="#666" stroke-width="0.9" />
<line x1="245.0" y1="728.0" x2="248.0" y2="728.0" stroke="#666" stroke-width="0.9" />
<line x1="245.0" y1="755.0" x2="248.0" y2="755.0" stroke="#666" stroke-width="0.9" />
<line x1="245.0" y1="780.9" x2="248.0" y2="780.9" stroke="#666" stroke-width="0.9" />
<line x1="245.0" y1="807.2" x2="248.0" y2="807.2" stroke="#666" stroke-width="0.9" />
<line x1="276.4" y1="700.5" x2="279.4" y2="700.5" stroke="#666" stroke-width="0.9" />
<line x1="276.4" y1="728.0" x2="279.4" y2="728.0" stroke="#666" stroke-width="0.9" />
<line x1="276.4" y1="755.0" x2="279.4" y2="755.0" stroke="#666" stroke-width="0.9" />
<line x1="276.4" y1="780.9" x2="279.4" y2="780.9" stroke="#666" stroke-width="0.9" />
<line x1="276.4" y1="807.2" x2="279.4" y2="807.2" stroke="#666" stroke-width="0.9" />
<line x1="307.0" y1="700.5" x2="310.0" y2="700.5" stroke="#666" stroke-width="0.9" />
<line x1="307.0" y1="728.0" x2="310.0" y2="728.0" stroke="#666" stroke-width="0.9" />
<line x1="307.0" y1="755.0" x2="310.0" y2="755.0" stroke="#666" stroke-width="0.9" />
<line x1="307.0" y1="780.9" x2="310.0" y2="780.9" stroke="#666" stroke-width="0.9" />
<line x1="307.0" y1="807.2" x2="310.0" y2="807.2" stroke="#666" stroke-width="0.9" />
<line x1="339.1" y1="700.5" x2="342.1" y2="700.5" stroke="#666" stroke-width="0.9" />
<line x1="339.1" y1="728.0" x2="342.1" y2="728.0" stroke="#666" stroke-width="0.9" />
<line x1="339.1" y1="755.0" x2="342.1" y2="755.0" stroke="#666" stroke-width="0.9" />
<line x1="339.1" y1="780.9" x2="342.1" y2="780.9" stroke="#666" stroke-width="0.9" />
<line x1="339.1" y1="807.2" x2="342.1" y2="807.2" stroke="#666" stroke-width="0.9" />
<text x="231.5" y="674.8" font-size="11.5" text-anchor="middle" textLength="39" lengthAdjust="spacingAndGlyphs" stroke="#111" stroke-width="0.3" transform="rotate(-90 231.5 670.7)" >(V/12V)</text>
<text x="263.5" y="677.8" font-size="11.5" text-anchor="middle" textLength="33" lengthAdjust="spacingAndGlyphs" stroke="#111" stroke-width="0.3" transform="rotate(-90 263.5 673.7)" >(V/8V)</text>
<text x="294.5" y="677.8" font-size="11.5" text-anchor="middle" textLength="33" lengthAdjust="spacingAndGlyphs" stroke="#111" stroke-width="0.3" transform="rotate(-90 294.5 673.7)" >(V/6V)</text>
<text x="325.5" y="677.8" font-size="11.5" text-anchor="middle" textLength="33" lengthAdjust="spacingAndGlyphs" stroke="#111" stroke-width="0.3" transform="rotate(-90 325.5 673.7)" >(V/4V)</text>
<text x="357.5" y="674.8" font-size="11.5" text-anchor="middle" textLength="39" lengthAdjust="spacingAndGlyphs" stroke="#111" stroke-width="0.3" transform="rotate(-90 357.5 670.7)" >(V/cell)</text>
<text x="201.0" y="751.3" font-size="12.5" text-anchor="middle" textLength="98" lengthAdjust="spacingAndGlyphs" stroke="#111" stroke-width="0.3" transform="rotate(-90 201.0 746.8)" >Charging Voltage</text>
<text x="399.6" y="845.7" font-size="11" text-anchor="middle" stroke="#111" stroke-width="0.35" >0</text>
<text x="431.0" y="845.7" font-size="11" text-anchor="middle" stroke="#111" stroke-width="0.35" >10</text>
<text x="461.5" y="845.7" font-size="11" text-anchor="middle" stroke="#111" stroke-width="0.35" >20</text>
<text x="492.5" y="845.7" font-size="11" text-anchor="middle" stroke="#111" stroke-width="0.35" >30</text>
<text x="522.4" y="845.7" font-size="11" text-anchor="middle" stroke="#111" stroke-width="0.35" >40</text>
<text x="552.4" y="845.7" font-size="11" text-anchor="middle" stroke="#111" stroke-width="0.35" >50</text>
<text x="582.3" y="845.7" font-size="11" text-anchor="middle" stroke="#111" stroke-width="0.35" >60</text>
<text x="370.5" y="845.7" font-size="11" text-anchor="middle" textLength="19" lengthAdjust="spacingAndGlyphs" stroke="#111" stroke-width="0.35" >-10</text>
<text x="399.0" y="863.1" font-size="15.5" text-anchor="middle" textLength="212.5" lengthAdjust="spacingAndGlyphs" >Ambient temperature(°C )</text>
<line x1="700.0" y1="652.8" x2="700.0" y2="825.2" stroke="#5c5c5c" stroke-width="1.1" />
<line x1="716.4" y1="652.8" x2="716.4" y2="825.2" stroke="#5c5c5c" stroke-width="1.1" />
<line x1="732.7" y1="652.8" x2="732.7" y2="825.2" stroke="#5c5c5c" stroke-width="1.1" />
<line x1="749.1" y1="652.8" x2="749.1" y2="825.2" stroke="#5c5c5c" stroke-width="1.1" />
<line x1="765.4" y1="652.8" x2="765.4" y2="825.2" stroke="#5c5c5c" stroke-width="1.1" />
<line x1="781.8" y1="652.8" x2="781.8" y2="825.2" stroke="#5c5c5c" stroke-width="1.1" />
<line x1="798.1" y1="652.8" x2="798.1" y2="825.2" stroke="#5c5c5c" stroke-width="1.1" />
<line x1="814.5" y1="652.8" x2="814.5" y2="825.2" stroke="#5c5c5c" stroke-width="1.1" />
<line x1="830.8" y1="652.8" x2="830.8" y2="825.2" stroke="#5c5c5c" stroke-width="1.1" />
<line x1="847.2" y1="652.8" x2="847.2" y2="825.2" stroke="#5c5c5c" stroke-width="1.1" />
<line x1="863.5" y1="652.8" x2="863.5" y2="825.2" stroke="#5c5c5c" stroke-width="1.1" />
<line x1="879.8" y1="652.8" x2="879.8" y2="825.2" stroke="#5c5c5c" stroke-width="1.1" />
<line x1="896.2" y1="652.8" x2="896.2" y2="825.2" stroke="#5c5c5c" stroke-width="1.1" />
<line x1="912.5" y1="652.8" x2="912.5" y2="825.2" stroke="#5c5c5c" stroke-width="1.1" />
<line x1="928.9" y1="652.8" x2="928.9" y2="825.2" stroke="#5c5c5c" stroke-width="1.1" />
<line x1="945.2" y1="652.8" x2="945.2" y2="825.2" stroke="#5c5c5c" stroke-width="1.1" />
<line x1="961.6" y1="652.8" x2="961.6" y2="825.2" stroke="#5c5c5c" stroke-width="1.1" />
<line x1="977.9" y1="652.8" x2="977.9" y2="825.2" stroke="#5c5c5c" stroke-width="1.1" />
<line x1="994.3" y1="652.8" x2="994.3" y2="825.2" stroke="#5c5c5c" stroke-width="1.1" />
<line x1="683.7" y1="665.1" x2="1010.6" y2="665.1" stroke="#5c5c5c" stroke-width="1.1" />
<line x1="683.7" y1="677.4" x2="1010.6" y2="677.4" stroke="#5c5c5c" stroke-width="1.1" />
<line x1="683.7" y1="689.7" x2="1010.6" y2="689.7" stroke="#5c5c5c" stroke-width="1.1" />
<line x1="683.7" y1="702.1" x2="1010.6" y2="702.1" stroke="#5c5c5c" stroke-width="1.1" />
<line x1="683.7" y1="714.4" x2="1010.6" y2="714.4" stroke="#5c5c5c" stroke-width="1.1" />
<line x1="683.7" y1="726.7" x2="1010.6" y2="726.7" stroke="#5c5c5c" stroke-width="1.1" />
<line x1="683.7" y1="739.0" x2="1010.6" y2="739.0" stroke="#5c5c5c" stroke-width="1.1" />
<line x1="683.7" y1="751.3" x2="1010.6" y2="751.3" stroke="#5c5c5c" stroke-width="1.1" />
<line x1="683.7" y1="763.6" x2="1010.6" y2="763.6" stroke="#5c5c5c" stroke-width="1.1" />
<line x1="683.7" y1="775.9" x2="1010.6" y2="775.9" stroke="#5c5c5c" stroke-width="1.1" />
<line x1="683.7" y1="788.3" x2="1010.6" y2="788.3" stroke="#5c5c5c" stroke-width="1.1" />
<line x1="683.7" y1="800.6" x2="1010.6" y2="800.6" stroke="#5c5c5c" stroke-width="1.1" />
<line x1="683.7" y1="812.9" x2="1010.6" y2="812.9" stroke="#5c5c5c" stroke-width="1.1" />
<rect x="683.7" y="652.8" width="326.9" height="172.4" fill="none" stroke="#5c5c5c" stroke-width="1.1" rx="0" />
<line x1="683.7" y1="659.0" x2="686.2" y2="659.0" stroke="#777" stroke-width="0.9" />
<line x1="683.7" y1="671.3" x2="686.2" y2="671.3" stroke="#777" stroke-width="0.9" />
<line x1="683.7" y1="683.6" x2="686.2" y2="683.6" stroke="#777" stroke-width="0.9" />
<line x1="683.7" y1="695.9" x2="686.2" y2="695.9" stroke="#777" stroke-width="0.9" />
<line x1="683.7" y1="708.2" x2="686.2" y2="708.2" stroke="#777" stroke-width="0.9" />
<line x1="683.7" y1="720.5" x2="686.2" y2="720.5" stroke="#777" stroke-width="0.9" />
<line x1="683.7" y1="732.8" x2="686.2" y2="732.8" stroke="#777" stroke-width="0.9" />
<line x1="683.7" y1="745.2" x2="686.2" y2="745.2" stroke="#777" stroke-width="0.9" />
<line x1="683.7" y1="757.5" x2="686.2" y2="757.5" stroke="#777" stroke-width="0.9" />
<line x1="683.7" y1="769.8" x2="686.2" y2="769.8" stroke="#777" stroke-width="0.9" />
<line x1="683.7" y1="782.1" x2="686.2" y2="782.1" stroke="#777" stroke-width="0.9" />
<line x1="683.7" y1="794.4" x2="686.2" y2="794.4" stroke="#777" stroke-width="0.9" />
<line x1="683.7" y1="806.7" x2="686.2" y2="806.7" stroke="#777" stroke-width="0.9" />
<line x1="683.7" y1="819.0" x2="686.2" y2="819.0" stroke="#777" stroke-width="0.9" />
<line x1="691.9" y1="823.0" x2="691.9" y2="825.2" stroke="#777" stroke-width="0.9" />
<line x1="708.2" y1="823.0" x2="708.2" y2="825.2" stroke="#777" stroke-width="0.9" />
<line x1="724.6" y1="823.0" x2="724.6" y2="825.2" stroke="#777" stroke-width="0.9" />
<line x1="740.9" y1="823.0" x2="740.9" y2="825.2" stroke="#777" stroke-width="0.9" />
<line x1="757.3" y1="823.0" x2="757.3" y2="825.2" stroke="#777" stroke-width="0.9" />
<line x1="773.6" y1="823.0" x2="773.6" y2="825.2" stroke="#777" stroke-width="0.9" />
<line x1="789.9" y1="823.0" x2="789.9" y2="825.2" stroke="#777" stroke-width="0.9" />
<line x1="806.3" y1="823.0" x2="806.3" y2="825.2" stroke="#777" stroke-width="0.9" />
<line x1="822.6" y1="823.0" x2="822.6" y2="825.2" stroke="#777" stroke-width="0.9" />
<line x1="839.0" y1="823.0" x2="839.0" y2="825.2" stroke="#777" stroke-width="0.9" />
<line x1="855.3" y1="823.0" x2="855.3" y2="825.2" stroke="#777" stroke-width="0.9" />
<line x1="871.7" y1="823.0" x2="871.7" y2="825.2" stroke="#777" stroke-width="0.9" />
<line x1="888.0" y1="823.0" x2="888.0" y2="825.2" stroke="#777" stroke-width="0.9" />
<line x1="904.4" y1="823.0" x2="904.4" y2="825.2" stroke="#777" stroke-width="0.9" />
<line x1="920.7" y1="823.0" x2="920.7" y2="825.2" stroke="#777" stroke-width="0.9" />
<line x1="937.0" y1="823.0" x2="937.0" y2="825.2" stroke="#777" stroke-width="0.9" />
<line x1="953.4" y1="823.0" x2="953.4" y2="825.2" stroke="#777" stroke-width="0.9" />
<line x1="969.7" y1="823.0" x2="969.7" y2="825.2" stroke="#777" stroke-width="0.9" />
<line x1="986.1" y1="823.0" x2="986.1" y2="825.2" stroke="#777" stroke-width="0.9" />
<line x1="1002.4" y1="823.0" x2="1002.4" y2="825.2" stroke="#777" stroke-width="0.9" />
<path d="M683.7,677.4 Q692,684.5 703.5,690.6 L945.9,801.4" fill="none" stroke="#111" stroke-width="2.1" />
<path d="M683.7,677.4 C684.1,678.1 684.6,679.4 686.0,681.7 C687.4,684.0 689.5,688.4 692.0,691.0 C694.5,693.6 696.0,693.9 701.0,697.5 C706.0,701.1 696.3,695.2 722.0,712.5 C747.7,729.8 833.0,786.6 855.2,801.4" fill="none" stroke="#6a1712" stroke-width="1.6" />
<path d="M683.7,677.4 C684.3,678.8 686.4,682.9 687.5,685.5 C688.6,688.1 688.4,689.3 690.5,693.0 C692.6,696.7 687.5,689.5 700.0,707.5 C712.5,725.5 754.4,785.2 765.3,800.8" fill="none" stroke="#1a1f6c" stroke-width="2" />
<rect x="717.5" y="776.6" width="30.0" height="11.2" fill="#fff" stroke="none" stroke-width="1" rx="0" />
<rect x="783.0" y="776.6" width="29.5" height="11.2" fill="#fff" stroke="none" stroke-width="1" rx="0" />
<rect x="848.5" y="776.6" width="30.0" height="11.2" fill="#fff" stroke="none" stroke-width="1" rx="0" />
<text x="732.5" y="786.2" font-size="10.5" text-anchor="middle" textLength="27.5" lengthAdjust="spacingAndGlyphs" stroke="#111" stroke-width="0.3" >40°C</text>
<text x="798.0" y="786.2" font-size="10.5" text-anchor="middle" textLength="27" lengthAdjust="spacingAndGlyphs" stroke="#111" stroke-width="0.3" >30°C</text>
<text x="864.0" y="786.2" font-size="10.5" text-anchor="middle" textLength="27.6" lengthAdjust="spacingAndGlyphs" stroke="#111" stroke-width="0.3" >20 C</text>
<text x="679.3" y="658.9" font-size="12.5" text-anchor="end" textLength="23.5" lengthAdjust="spacingAndGlyphs" stroke="#111" stroke-width="0.45" >110</text>
<text x="679.3" y="683.7" font-size="12.5" text-anchor="end" textLength="23.5" lengthAdjust="spacingAndGlyphs" stroke="#111" stroke-width="0.45" >100</text>
<text x="679.3" y="708.0" font-size="12.5" text-anchor="end" textLength="15.8" lengthAdjust="spacingAndGlyphs" stroke="#111" stroke-width="0.45" >90</text>
<text x="679.3" y="733.0" font-size="12.5" text-anchor="end" textLength="15.8" lengthAdjust="spacingAndGlyphs" stroke="#111" stroke-width="0.45" >80</text>
<text x="679.3" y="757.5" font-size="12.5" text-anchor="end" textLength="15.8" lengthAdjust="spacingAndGlyphs" stroke="#111" stroke-width="0.45" >70</text>
<text x="679.3" y="782.0" font-size="12.5" text-anchor="end" textLength="15.8" lengthAdjust="spacingAndGlyphs" stroke="#111" stroke-width="0.45" >60</text>
<text x="679.3" y="806.8" font-size="12.5" text-anchor="end" textLength="15.8" lengthAdjust="spacingAndGlyphs" stroke="#111" stroke-width="0.45" >50</text>
<text x="679.3" y="829.0" font-size="12.5" text-anchor="end" textLength="15.8" lengthAdjust="spacingAndGlyphs" stroke="#111" stroke-width="0.45" >40</text>
<text x="683.7" y="839.6" font-size="12" text-anchor="middle" stroke="#111" stroke-width="0.4" >0</text>
<text x="716.4" y="839.6" font-size="12" text-anchor="middle" stroke="#111" stroke-width="0.4" >2</text>
<text x="749.1" y="839.6" font-size="12" text-anchor="middle" stroke="#111" stroke-width="0.4" >4</text>
<text x="781.8" y="839.6" font-size="12" text-anchor="middle" stroke="#111" stroke-width="0.4" >6</text>
<text x="814.5" y="839.6" font-size="12" text-anchor="middle" stroke="#111" stroke-width="0.4" >8</text>
<text x="847.2" y="839.6" font-size="12" text-anchor="middle" textLength="14.5" lengthAdjust="spacingAndGlyphs" stroke="#111" stroke-width="0.4" >10</text>
<text x="879.8" y="839.6" font-size="12" text-anchor="middle" textLength="14.5" lengthAdjust="spacingAndGlyphs" stroke="#111" stroke-width="0.4" >12</text>
<text x="912.5" y="839.6" font-size="12" text-anchor="middle" textLength="14.5" lengthAdjust="spacingAndGlyphs" stroke="#111" stroke-width="0.4" >14</text>
<text x="945.2" y="839.6" font-size="12" text-anchor="middle" textLength="14.5" lengthAdjust="spacingAndGlyphs" stroke="#111" stroke-width="0.4" >16</text>
<text x="977.9" y="839.6" font-size="12" text-anchor="middle" textLength="14.5" lengthAdjust="spacingAndGlyphs" stroke="#111" stroke-width="0.4" >18</text>
<text x="1010.6" y="839.6" font-size="12" text-anchor="middle" textLength="14.5" lengthAdjust="spacingAndGlyphs" stroke="#111" stroke-width="0.4" >20</text>
<text x="840.7" y="863.0" font-size="16" text-anchor="middle" textLength="224.7" lengthAdjust="spacingAndGlyphs" >Storage time:months</text>
<text x="636.0" y="739.0" font-size="14" text-anchor="middle" textLength="75.3" lengthAdjust="spacingAndGlyphs" stroke="#111" stroke-width="0.3" transform="rotate(-90 636.0 734.0)" >Capacity(%)</text>
<line x1="312.3" y1="920.5" x2="312.3" y2="1097.3" stroke="#5c5c5c" stroke-width="1.1" />
<line x1="365.6" y1="920.5" x2="365.6" y2="1097.3" stroke="#5c5c5c" stroke-width="1.1" />
<line x1="417.9" y1="920.5" x2="417.9" y2="1097.3" stroke="#5c5c5c" stroke-width="1.1" />
<line x1="471.1" y1="920.5" x2="471.1" y2="1097.3" stroke="#5c5c5c" stroke-width="1.1" />
<line x1="524.2" y1="920.5" x2="524.2" y2="1097.3" stroke="#5c5c5c" stroke-width="1.1" />
<line x1="259.8" y1="951.3" x2="577.3" y2="951.3" stroke="#5c5c5c" stroke-width="1.1" />
<line x1="259.8" y1="980.2" x2="577.3" y2="980.2" stroke="#5c5c5c" stroke-width="1.1" />
<line x1="259.8" y1="1000.6" x2="577.3" y2="1000.6" stroke="#5c5c5c" stroke-width="1.1" />
<line x1="259.8" y1="1009.4" x2="577.3" y2="1009.4" stroke="#5c5c5c" stroke-width="1.1" />
<line x1="259.8" y1="1038.7" x2="577.3" y2="1038.7" stroke="#5c5c5c" stroke-width="1.1" />
<line x1="259.8" y1="1068.1" x2="577.3" y2="1068.1" stroke="#5c5c5c" stroke-width="1.1" />
<rect x="259.8" y="920.5" width="317.5" height="176.8" fill="none" stroke="#5c5c5c" stroke-width="1.1" rx="0" />
<rect x="261.0" y="1010.3" width="315.0" height="27.6" fill="#fff" stroke="none" stroke-width="1" rx="0" />
<rect x="363.5" y="1037.0" width="109.5" height="24.5" fill="#fff" stroke="none" stroke-width="1" rx="0" />
<line x1="259.8" y1="1038.7" x2="364.6" y2="1038.7" stroke="#5c5c5c" stroke-width="1.1" />
<line x1="471.3" y1="1038.7" x2="577.3" y2="1038.7" stroke="#5c5c5c" stroke-width="1.1" />
<line x1="312.3" y1="1038.7" x2="312.3" y2="1062.0" stroke="#5c5c5c" stroke-width="1.1" />
<line x1="524.2" y1="1038.7" x2="524.2" y2="1062.0" stroke="#5c5c5c" stroke-width="1.1" />
<polygon points="259.8,950.3 552.8,950.3 576.6,959.0 576.6,1000.3 259.8,954.8" fill="#e0261c" stroke="#6e0c08" stroke-width="1.2" stroke-linejoin="round"/>
<text x="419.6" y="1031.6" font-size="10.5" text-anchor="middle" textLength="304" lengthAdjust="spacingAndGlyphs" stroke="#111" stroke-width="0.3" >Testing conditions floating voltage:2.27 to 2.30V/cell</text>
<text x="418.0" y="1042.4" font-size="10.5" text-anchor="middle" textLength="45" lengthAdjust="spacingAndGlyphs" stroke="#111" stroke-width="0.3" >ambient</text>
<text x="425.7" y="1059.4" font-size="10.5" text-anchor="middle" textLength="131" lengthAdjust="spacingAndGlyphs" stroke="#111" stroke-width="0.25" >temperature:25°C(77°F)</text>
<text x="236.0" y="929.9" font-size="11.5" text-anchor="middle" textLength="20.5" lengthAdjust="spacingAndGlyphs" stroke="#111" stroke-width="0.4" >120</text>
<text x="236.0" y="956.8" font-size="11.5" text-anchor="middle" textLength="20.5" lengthAdjust="spacingAndGlyphs" stroke="#111" stroke-width="0.4" >100</text>
<text x="236.0" y="985.9" font-size="11.5" text-anchor="middle" textLength="14" lengthAdjust="spacingAndGlyphs" stroke="#111" stroke-width="0.4" >80</text>
<text x="236.0" y="1013.9" font-size="11.5" text-anchor="middle" textLength="14" lengthAdjust="spacingAndGlyphs" stroke="#111" stroke-width="0.4" >60</text>
<text x="236.0" y="1042.9" font-size="11.5" text-anchor="middle" textLength="14" lengthAdjust="spacingAndGlyphs" stroke="#111" stroke-width="0.4" >40</text>
<text x="236.0" y="1072.3" font-size="11.5" text-anchor="middle" textLength="14" lengthAdjust="spacingAndGlyphs" stroke="#111" stroke-width="0.4" >20</text>
<text x="254.2" y="1112.4" font-size="10" text-anchor="middle" stroke="#111" stroke-width="0.4" >0</text>
<text x="312.3" y="1112.4" font-size="10" text-anchor="middle" stroke="#111" stroke-width="0.4" >1</text>
<text x="418.0" y="1112.4" font-size="10" text-anchor="middle" stroke="#111" stroke-width="0.4" >2</text>
<text x="524.0" y="1112.4" font-size="10" text-anchor="middle" stroke="#111" stroke-width="0.4" >3</text>
<text x="392.7" y="1136.1" font-size="16" text-anchor="middle" textLength="89.5" lengthAdjust="spacingAndGlyphs" >Life(year)</text>
<text x="201.5" y="999.0" font-size="14" text-anchor="middle" textLength="74" lengthAdjust="spacingAndGlyphs" stroke="#111" stroke-width="0.25" transform="rotate(-90 201.5 994.0)" >Capacity(%)</text>
<line x1="729.7" y1="923.4" x2="729.7" y2="1091.8" stroke="#5c5c5c" stroke-width="1.1" />
<line x1="777.4" y1="923.4" x2="777.4" y2="1091.8" stroke="#5c5c5c" stroke-width="1.1" />
<line x1="824.0" y1="923.4" x2="824.0" y2="1091.8" stroke="#5c5c5c" stroke-width="1.1" />
<line x1="871.3" y1="923.4" x2="871.3" y2="1091.8" stroke="#5c5c5c" stroke-width="1.1" />
<line x1="917.9" y1="923.4" x2="917.9" y2="1091.8" stroke="#5c5c5c" stroke-width="1.1" />
<line x1="965.6" y1="923.4" x2="965.6" y2="1091.8" stroke="#5c5c5c" stroke-width="1.1" />
<line x1="682.4" y1="952.0" x2="1011.5" y2="952.0" stroke="#5c5c5c" stroke-width="1.1" />
<line x1="682.4" y1="980.4" x2="1011.5" y2="980.4" stroke="#5c5c5c" stroke-width="1.1" />
<line x1="682.4" y1="1008.6" x2="1011.5" y2="1008.6" stroke="#5c5c5c" stroke-width="1.1" />
<line x1="682.4" y1="1036.8" x2="1011.5" y2="1036.8" stroke="#5c5c5c" stroke-width="1.1" />
<line x1="682.4" y1="1065.0" x2="1011.5" y2="1065.0" stroke="#5c5c5c" stroke-width="1.1" />
<rect x="682.4" y="923.4" width="329.1" height="168.4" fill="none" stroke="#5c5c5c" stroke-width="1.1" rx="0" />
<path d="M682.4,998.7 C698.5,994.2 747.5,979.6 779.2,971.8 C810.9,964.0 842.5,957.4 872.4,952.0 C902.3,946.6 935.2,942.5 958.4,939.5 C981.6,936.5 1002.6,935.0 1011.5,934.1" fill="none" stroke="#1a1f6c" stroke-width="1.8" />
<path d="M682.4,1011.9 C698.5,1007.3 747.5,992.2 779.2,984.3 C810.9,976.4 842.5,970.1 872.4,964.6 C902.3,959.1 935.2,954.1 958.4,951.0 C981.6,947.9 1002.6,946.8 1011.5,946.0" fill="none" stroke="#6a1712" stroke-width="1.8" />
<path d="M682.4,1023.0 C698.5,1019.5 747.5,1009.1 779.2,1002.2 C810.9,995.3 842.5,987.8 872.4,981.8 C902.3,975.8 935.2,970.0 958.4,966.4 C981.6,962.8 1002.6,961.3 1011.5,960.3" fill="none" stroke="#111" stroke-width="1.8" />
<path d="M682.4,1054.9 C698.5,1051.2 747.5,1039.7 779.2,1032.7 C810.9,1025.7 842.5,1019.0 872.4,1013.0 C902.3,1007.0 935.2,1000.6 958.4,996.9 C981.6,993.2 1002.6,991.8 1011.5,990.8" fill="none" stroke="#1a1f6c" stroke-width="1.8" />
<path d="M682.4,1073.9 C698.5,1070.0 747.5,1057.8 779.2,1050.6 C810.9,1043.4 842.5,1036.6 872.4,1030.9 C902.3,1025.2 935.2,1020.0 958.4,1016.6 C981.6,1013.2 1002.6,1011.5 1011.5,1010.5" fill="none" stroke="#6a1712" stroke-width="1.8" />
<path d="M682.4,1090.0 C698.5,1086.1 747.5,1073.7 779.2,1066.8 C810.9,1059.9 842.5,1054.0 872.4,1048.8 C902.3,1043.6 935.2,1038.8 958.4,1035.6 C981.6,1032.4 1002.6,1030.8 1011.5,1029.8" fill="none" stroke="#111" stroke-width="1.8" />
<text x="795.3" y="963.6" font-size="10.5" text-anchor="middle" textLength="25" lengthAdjust="spacingAndGlyphs" stroke="#111" stroke-width="0.25" transform="rotate(-12 795.3 959.8)" >0.05C</text>
<text x="802.5" y="978.8" font-size="10.5" text-anchor="middle" textLength="21.5" lengthAdjust="spacingAndGlyphs" stroke="#111" stroke-width="0.25" transform="rotate(-12 802.5 975.0)" >0.1C</text>
<text x="802.5" y="992.3" font-size="10.5" text-anchor="middle" textLength="21.5" lengthAdjust="spacingAndGlyphs" stroke="#111" stroke-width="0.25" transform="rotate(-12 802.5 988.5)" >0.2C</text>
<text x="800.7" y="1026.1" font-size="10.5" text-anchor="middle" textLength="21.5" lengthAdjust="spacingAndGlyphs" stroke="#111" stroke-width="0.25" transform="rotate(-12 800.7 1022.3)" >1.0C</text>
<text x="795.3" y="1045.3" font-size="10.5" text-anchor="middle" textLength="21.5" lengthAdjust="spacingAndGlyphs" stroke="#111" stroke-width="0.25" transform="rotate(-12 795.3 1041.5)" >2.0C</text>
<text x="797.0" y="1060.1" font-size="10.5" text-anchor="middle" textLength="21.5" lengthAdjust="spacingAndGlyphs" stroke="#111" stroke-width="0.25" transform="rotate(-12 797.0 1056.3)" >3.0C</text>
<text x="675.4" y="927.4" font-size="11.5" text-anchor="end" textLength="20.5" lengthAdjust="spacingAndGlyphs" stroke="#111" stroke-width="0.4" >120</text>
<text x="675.4" y="956.4" font-size="11.5" text-anchor="end" textLength="20.5" lengthAdjust="spacingAndGlyphs" stroke="#111" stroke-width="0.4" >100</text>
<text x="675.4" y="984.9" font-size="11.5" text-anchor="end" textLength="14" lengthAdjust="spacingAndGlyphs" stroke="#111" stroke-width="0.4" >80</text>
<text x="675.4" y="1012.9" font-size="11.5" text-anchor="end" textLength="14" lengthAdjust="spacingAndGlyphs" stroke="#111" stroke-width="0.4" >60</text>
<text x="675.4" y="1041.1" font-size="11.5" text-anchor="end" textLength="14" lengthAdjust="spacingAndGlyphs" stroke="#111" stroke-width="0.4" >40</text>
<text x="675.4" y="1069.1" font-size="11.5" text-anchor="end" textLength="14" lengthAdjust="spacingAndGlyphs" stroke="#111" stroke-width="0.4" >20</text>
<text x="675.4" y="1094.1" font-size="11.5" text-anchor="end" stroke="#111" stroke-width="0.4" >0</text>
<text x="686.0" y="1108.5" font-size="11.5" text-anchor="middle" textLength="19.5" lengthAdjust="spacingAndGlyphs" stroke="#111" stroke-width="0.4" >-20</text>
<text x="727.2" y="1108.5" font-size="11.5" text-anchor="middle" textLength="19.5" lengthAdjust="spacingAndGlyphs" stroke="#111" stroke-width="0.4" >-10</text>
<text x="779.2" y="1108.5" font-size="11.5" text-anchor="middle" stroke="#111" stroke-width="0.4" >0</text>
<text x="825.0" y="1108.5" font-size="11.5" text-anchor="middle" textLength="14" lengthAdjust="spacingAndGlyphs" stroke="#111" stroke-width="0.4" >10</text>
<text x="872.4" y="1108.5" font-size="11.5" text-anchor="middle" textLength="14" lengthAdjust="spacingAndGlyphs" stroke="#111" stroke-width="0.4" >20</text>
<text x="917.2" y="1108.5" font-size="11.5" text-anchor="middle" textLength="14" lengthAdjust="spacingAndGlyphs" stroke="#111" stroke-width="0.4" >30</text>
<text x="965.6" y="1108.5" font-size="11.5" text-anchor="middle" textLength="14" lengthAdjust="spacingAndGlyphs" stroke="#111" stroke-width="0.4" >40</text>
<text x="1010.4" y="1108.5" font-size="11.5" text-anchor="middle" textLength="14" lengthAdjust="spacingAndGlyphs" stroke="#111" stroke-width="0.4" >50</text>
<text x="840.2" y="1133.5" font-size="16" text-anchor="middle" textLength="157.7" lengthAdjust="spacingAndGlyphs" >Temperature(°C)</text>
<text x="634.0" y="1007.0" font-size="14" text-anchor="middle" textLength="71" lengthAdjust="spacingAndGlyphs" stroke="#111" stroke-width="0.2" transform="rotate(-90 634.0 1002.0)" >Capacity(%)</text>
</svg>
</body></html>
